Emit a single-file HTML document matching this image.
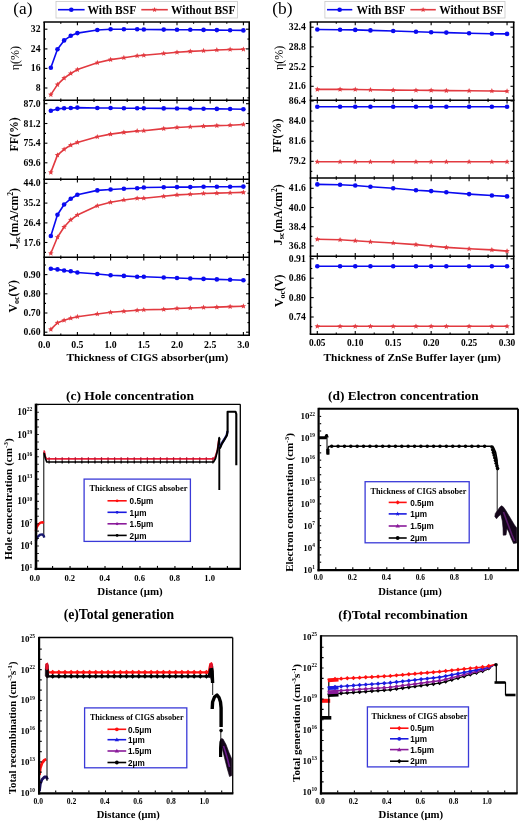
<!DOCTYPE html>
<html><head><meta charset="utf-8"><title>Figure</title>
<style>html,body{margin:0;padding:0;background:#fff;} svg{display:block;}</style>
</head><body>
<svg width="520" height="822" viewBox="0 0 520 822">
<rect x="0" y="0" width="520" height="822" fill="#fff"/>
<line x1="43.4" y1="22" x2="250" y2="22" stroke="#000" stroke-width="1.6"/>
<line x1="43.4" y1="100.3" x2="250" y2="100.3" stroke="#000" stroke-width="1.6"/>
<line x1="43.4" y1="179.3" x2="250" y2="179.3" stroke="#000" stroke-width="1.6"/>
<line x1="43.4" y1="257.3" x2="250" y2="257.3" stroke="#000" stroke-width="1.6"/>
<line x1="43.4" y1="335.3" x2="250" y2="335.3" stroke="#000" stroke-width="1.6"/>
<line x1="44.2" y1="22" x2="44.2" y2="335.3" stroke="#000" stroke-width="1.6"/>
<line x1="249.2" y1="22" x2="249.2" y2="335.3" stroke="#000" stroke-width="1.6"/>
<line x1="77.4" y1="22" x2="77.4" y2="25.2" stroke="#000" stroke-width="1.1"/>
<line x1="110.6" y1="22" x2="110.6" y2="25.2" stroke="#000" stroke-width="1.1"/>
<line x1="143.8" y1="22" x2="143.8" y2="25.2" stroke="#000" stroke-width="1.1"/>
<line x1="177" y1="22" x2="177" y2="25.2" stroke="#000" stroke-width="1.1"/>
<line x1="210.2" y1="22" x2="210.2" y2="25.2" stroke="#000" stroke-width="1.1"/>
<line x1="243.4" y1="22" x2="243.4" y2="25.2" stroke="#000" stroke-width="1.1"/>
<line x1="60.8" y1="22" x2="60.8" y2="23.8" stroke="#000" stroke-width="1.1"/>
<line x1="94" y1="22" x2="94" y2="23.8" stroke="#000" stroke-width="1.1"/>
<line x1="127.2" y1="22" x2="127.2" y2="23.8" stroke="#000" stroke-width="1.1"/>
<line x1="160.4" y1="22" x2="160.4" y2="23.8" stroke="#000" stroke-width="1.1"/>
<line x1="193.6" y1="22" x2="193.6" y2="23.8" stroke="#000" stroke-width="1.1"/>
<line x1="226.8" y1="22" x2="226.8" y2="23.8" stroke="#000" stroke-width="1.1"/>
<line x1="77.4" y1="100.3" x2="77.4" y2="97.1" stroke="#000" stroke-width="1.1"/>
<line x1="77.4" y1="100.3" x2="77.4" y2="103.5" stroke="#000" stroke-width="1.1"/>
<line x1="110.6" y1="100.3" x2="110.6" y2="97.1" stroke="#000" stroke-width="1.1"/>
<line x1="110.6" y1="100.3" x2="110.6" y2="103.5" stroke="#000" stroke-width="1.1"/>
<line x1="143.8" y1="100.3" x2="143.8" y2="97.1" stroke="#000" stroke-width="1.1"/>
<line x1="143.8" y1="100.3" x2="143.8" y2="103.5" stroke="#000" stroke-width="1.1"/>
<line x1="177" y1="100.3" x2="177" y2="97.1" stroke="#000" stroke-width="1.1"/>
<line x1="177" y1="100.3" x2="177" y2="103.5" stroke="#000" stroke-width="1.1"/>
<line x1="210.2" y1="100.3" x2="210.2" y2="97.1" stroke="#000" stroke-width="1.1"/>
<line x1="210.2" y1="100.3" x2="210.2" y2="103.5" stroke="#000" stroke-width="1.1"/>
<line x1="243.4" y1="100.3" x2="243.4" y2="97.1" stroke="#000" stroke-width="1.1"/>
<line x1="243.4" y1="100.3" x2="243.4" y2="103.5" stroke="#000" stroke-width="1.1"/>
<line x1="60.8" y1="100.3" x2="60.8" y2="98.5" stroke="#000" stroke-width="1.1"/>
<line x1="60.8" y1="100.3" x2="60.8" y2="102.1" stroke="#000" stroke-width="1.1"/>
<line x1="94" y1="100.3" x2="94" y2="98.5" stroke="#000" stroke-width="1.1"/>
<line x1="94" y1="100.3" x2="94" y2="102.1" stroke="#000" stroke-width="1.1"/>
<line x1="127.2" y1="100.3" x2="127.2" y2="98.5" stroke="#000" stroke-width="1.1"/>
<line x1="127.2" y1="100.3" x2="127.2" y2="102.1" stroke="#000" stroke-width="1.1"/>
<line x1="160.4" y1="100.3" x2="160.4" y2="98.5" stroke="#000" stroke-width="1.1"/>
<line x1="160.4" y1="100.3" x2="160.4" y2="102.1" stroke="#000" stroke-width="1.1"/>
<line x1="193.6" y1="100.3" x2="193.6" y2="98.5" stroke="#000" stroke-width="1.1"/>
<line x1="193.6" y1="100.3" x2="193.6" y2="102.1" stroke="#000" stroke-width="1.1"/>
<line x1="226.8" y1="100.3" x2="226.8" y2="98.5" stroke="#000" stroke-width="1.1"/>
<line x1="226.8" y1="100.3" x2="226.8" y2="102.1" stroke="#000" stroke-width="1.1"/>
<line x1="77.4" y1="179.3" x2="77.4" y2="176.1" stroke="#000" stroke-width="1.1"/>
<line x1="77.4" y1="179.3" x2="77.4" y2="182.5" stroke="#000" stroke-width="1.1"/>
<line x1="110.6" y1="179.3" x2="110.6" y2="176.1" stroke="#000" stroke-width="1.1"/>
<line x1="110.6" y1="179.3" x2="110.6" y2="182.5" stroke="#000" stroke-width="1.1"/>
<line x1="143.8" y1="179.3" x2="143.8" y2="176.1" stroke="#000" stroke-width="1.1"/>
<line x1="143.8" y1="179.3" x2="143.8" y2="182.5" stroke="#000" stroke-width="1.1"/>
<line x1="177" y1="179.3" x2="177" y2="176.1" stroke="#000" stroke-width="1.1"/>
<line x1="177" y1="179.3" x2="177" y2="182.5" stroke="#000" stroke-width="1.1"/>
<line x1="210.2" y1="179.3" x2="210.2" y2="176.1" stroke="#000" stroke-width="1.1"/>
<line x1="210.2" y1="179.3" x2="210.2" y2="182.5" stroke="#000" stroke-width="1.1"/>
<line x1="243.4" y1="179.3" x2="243.4" y2="176.1" stroke="#000" stroke-width="1.1"/>
<line x1="243.4" y1="179.3" x2="243.4" y2="182.5" stroke="#000" stroke-width="1.1"/>
<line x1="60.8" y1="179.3" x2="60.8" y2="177.5" stroke="#000" stroke-width="1.1"/>
<line x1="60.8" y1="179.3" x2="60.8" y2="181.1" stroke="#000" stroke-width="1.1"/>
<line x1="94" y1="179.3" x2="94" y2="177.5" stroke="#000" stroke-width="1.1"/>
<line x1="94" y1="179.3" x2="94" y2="181.1" stroke="#000" stroke-width="1.1"/>
<line x1="127.2" y1="179.3" x2="127.2" y2="177.5" stroke="#000" stroke-width="1.1"/>
<line x1="127.2" y1="179.3" x2="127.2" y2="181.1" stroke="#000" stroke-width="1.1"/>
<line x1="160.4" y1="179.3" x2="160.4" y2="177.5" stroke="#000" stroke-width="1.1"/>
<line x1="160.4" y1="179.3" x2="160.4" y2="181.1" stroke="#000" stroke-width="1.1"/>
<line x1="193.6" y1="179.3" x2="193.6" y2="177.5" stroke="#000" stroke-width="1.1"/>
<line x1="193.6" y1="179.3" x2="193.6" y2="181.1" stroke="#000" stroke-width="1.1"/>
<line x1="226.8" y1="179.3" x2="226.8" y2="177.5" stroke="#000" stroke-width="1.1"/>
<line x1="226.8" y1="179.3" x2="226.8" y2="181.1" stroke="#000" stroke-width="1.1"/>
<line x1="77.4" y1="257.3" x2="77.4" y2="254.1" stroke="#000" stroke-width="1.1"/>
<line x1="77.4" y1="257.3" x2="77.4" y2="260.5" stroke="#000" stroke-width="1.1"/>
<line x1="110.6" y1="257.3" x2="110.6" y2="254.1" stroke="#000" stroke-width="1.1"/>
<line x1="110.6" y1="257.3" x2="110.6" y2="260.5" stroke="#000" stroke-width="1.1"/>
<line x1="143.8" y1="257.3" x2="143.8" y2="254.1" stroke="#000" stroke-width="1.1"/>
<line x1="143.8" y1="257.3" x2="143.8" y2="260.5" stroke="#000" stroke-width="1.1"/>
<line x1="177" y1="257.3" x2="177" y2="254.1" stroke="#000" stroke-width="1.1"/>
<line x1="177" y1="257.3" x2="177" y2="260.5" stroke="#000" stroke-width="1.1"/>
<line x1="210.2" y1="257.3" x2="210.2" y2="254.1" stroke="#000" stroke-width="1.1"/>
<line x1="210.2" y1="257.3" x2="210.2" y2="260.5" stroke="#000" stroke-width="1.1"/>
<line x1="243.4" y1="257.3" x2="243.4" y2="254.1" stroke="#000" stroke-width="1.1"/>
<line x1="243.4" y1="257.3" x2="243.4" y2="260.5" stroke="#000" stroke-width="1.1"/>
<line x1="60.8" y1="257.3" x2="60.8" y2="255.5" stroke="#000" stroke-width="1.1"/>
<line x1="60.8" y1="257.3" x2="60.8" y2="259.1" stroke="#000" stroke-width="1.1"/>
<line x1="94" y1="257.3" x2="94" y2="255.5" stroke="#000" stroke-width="1.1"/>
<line x1="94" y1="257.3" x2="94" y2="259.1" stroke="#000" stroke-width="1.1"/>
<line x1="127.2" y1="257.3" x2="127.2" y2="255.5" stroke="#000" stroke-width="1.1"/>
<line x1="127.2" y1="257.3" x2="127.2" y2="259.1" stroke="#000" stroke-width="1.1"/>
<line x1="160.4" y1="257.3" x2="160.4" y2="255.5" stroke="#000" stroke-width="1.1"/>
<line x1="160.4" y1="257.3" x2="160.4" y2="259.1" stroke="#000" stroke-width="1.1"/>
<line x1="193.6" y1="257.3" x2="193.6" y2="255.5" stroke="#000" stroke-width="1.1"/>
<line x1="193.6" y1="257.3" x2="193.6" y2="259.1" stroke="#000" stroke-width="1.1"/>
<line x1="226.8" y1="257.3" x2="226.8" y2="255.5" stroke="#000" stroke-width="1.1"/>
<line x1="226.8" y1="257.3" x2="226.8" y2="259.1" stroke="#000" stroke-width="1.1"/>
<line x1="77.4" y1="335.3" x2="77.4" y2="332.1" stroke="#000" stroke-width="1.1"/>
<line x1="110.6" y1="335.3" x2="110.6" y2="332.1" stroke="#000" stroke-width="1.1"/>
<line x1="143.8" y1="335.3" x2="143.8" y2="332.1" stroke="#000" stroke-width="1.1"/>
<line x1="177" y1="335.3" x2="177" y2="332.1" stroke="#000" stroke-width="1.1"/>
<line x1="210.2" y1="335.3" x2="210.2" y2="332.1" stroke="#000" stroke-width="1.1"/>
<line x1="243.4" y1="335.3" x2="243.4" y2="332.1" stroke="#000" stroke-width="1.1"/>
<line x1="60.8" y1="335.3" x2="60.8" y2="333.5" stroke="#000" stroke-width="1.1"/>
<line x1="94" y1="335.3" x2="94" y2="333.5" stroke="#000" stroke-width="1.1"/>
<line x1="127.2" y1="335.3" x2="127.2" y2="333.5" stroke="#000" stroke-width="1.1"/>
<line x1="160.4" y1="335.3" x2="160.4" y2="333.5" stroke="#000" stroke-width="1.1"/>
<line x1="193.6" y1="335.3" x2="193.6" y2="333.5" stroke="#000" stroke-width="1.1"/>
<line x1="226.8" y1="335.3" x2="226.8" y2="333.5" stroke="#000" stroke-width="1.1"/>
<line x1="44.2" y1="29.2" x2="47.4" y2="29.2" stroke="#000" stroke-width="1.1"/>
<line x1="249.2" y1="29.2" x2="246" y2="29.2" stroke="#000" stroke-width="1.1"/>
<line x1="44.2" y1="48.9" x2="47.4" y2="48.9" stroke="#000" stroke-width="1.1"/>
<line x1="249.2" y1="48.9" x2="246" y2="48.9" stroke="#000" stroke-width="1.1"/>
<line x1="44.2" y1="68.4" x2="47.4" y2="68.4" stroke="#000" stroke-width="1.1"/>
<line x1="249.2" y1="68.4" x2="246" y2="68.4" stroke="#000" stroke-width="1.1"/>
<line x1="44.2" y1="88" x2="47.4" y2="88" stroke="#000" stroke-width="1.1"/>
<line x1="249.2" y1="88" x2="246" y2="88" stroke="#000" stroke-width="1.1"/>
<line x1="44.2" y1="39.05" x2="46" y2="39.05" stroke="#000" stroke-width="1.1"/>
<line x1="249.2" y1="39.05" x2="247.4" y2="39.05" stroke="#000" stroke-width="1.1"/>
<line x1="44.2" y1="58.65" x2="46" y2="58.65" stroke="#000" stroke-width="1.1"/>
<line x1="249.2" y1="58.65" x2="247.4" y2="58.65" stroke="#000" stroke-width="1.1"/>
<line x1="44.2" y1="78.2" x2="46" y2="78.2" stroke="#000" stroke-width="1.1"/>
<line x1="249.2" y1="78.2" x2="247.4" y2="78.2" stroke="#000" stroke-width="1.1"/>
<line x1="44.2" y1="97.85" x2="46" y2="97.85" stroke="#000" stroke-width="1.1"/>
<line x1="249.2" y1="97.85" x2="247.4" y2="97.85" stroke="#000" stroke-width="1.1"/>
<text x="40.5" y="32.2" font-family="'Liberation Serif', 'Times New Roman', serif" font-size="9.7" font-weight="bold" text-anchor="end" fill="#000">32</text>
<text x="40.5" y="51.9" font-family="'Liberation Serif', 'Times New Roman', serif" font-size="9.7" font-weight="bold" text-anchor="end" fill="#000">24</text>
<text x="40.5" y="71.4" font-family="'Liberation Serif', 'Times New Roman', serif" font-size="9.7" font-weight="bold" text-anchor="end" fill="#000">16</text>
<text x="40.5" y="91" font-family="'Liberation Serif', 'Times New Roman', serif" font-size="9.7" font-weight="bold" text-anchor="end" fill="#000">8</text>
<polyline points="50.84,94.6 57.48,84.6 64.12,78.1 70.76,73.5 77.4,69.6 97.32,62.7 110.6,59.6 123.88,57.7 137.16,55.8 143.8,55.3 163.72,53.5 177,52.3 190.28,51.4 203.56,50.7 216.84,50 230.12,49.5 243.4,49.3" fill="none" stroke="#e23a40" stroke-width="1.6" stroke-linejoin="round"/>
<polygon points="50.84,91.7 51.61,93.54 53.6,93.7 52.08,95 52.54,96.95 50.84,95.91 49.14,96.95 49.6,95 48.08,93.7 50.07,93.54" fill="#e23a40"/>
<polygon points="57.48,81.7 58.25,83.54 60.24,83.7 58.72,85 59.18,86.95 57.48,85.91 55.78,86.95 56.24,85 54.72,83.7 56.71,83.54" fill="#e23a40"/>
<polygon points="64.12,75.2 64.89,77.04 66.88,77.2 65.36,78.5 65.82,80.45 64.12,79.41 62.42,80.45 62.88,78.5 61.36,77.2 63.35,77.04" fill="#e23a40"/>
<polygon points="70.76,70.6 71.53,72.44 73.52,72.6 72,73.9 72.46,75.85 70.76,74.81 69.06,75.85 69.52,73.9 68,72.6 69.99,72.44" fill="#e23a40"/>
<polygon points="77.4,66.7 78.17,68.54 80.16,68.7 78.64,70 79.1,71.95 77.4,70.91 75.7,71.95 76.16,70 74.64,68.7 76.63,68.54" fill="#e23a40"/>
<polygon points="97.32,59.8 98.09,61.64 100.08,61.8 98.56,63.1 99.02,65.05 97.32,64.01 95.62,65.05 96.08,63.1 94.56,61.8 96.55,61.64" fill="#e23a40"/>
<polygon points="110.6,56.7 111.37,58.54 113.36,58.7 111.84,60 112.3,61.95 110.6,60.91 108.9,61.95 109.36,60 107.84,58.7 109.83,58.54" fill="#e23a40"/>
<polygon points="123.88,54.8 124.65,56.64 126.64,56.8 125.12,58.1 125.58,60.05 123.88,59.01 122.18,60.05 122.64,58.1 121.12,56.8 123.11,56.64" fill="#e23a40"/>
<polygon points="137.16,52.9 137.93,54.74 139.92,54.9 138.4,56.2 138.86,58.15 137.16,57.1 135.46,58.15 135.92,56.2 134.4,54.9 136.39,54.74" fill="#e23a40"/>
<polygon points="143.8,52.4 144.57,54.24 146.56,54.4 145.04,55.7 145.5,57.65 143.8,56.6 142.1,57.65 142.56,55.7 141.04,54.4 143.03,54.24" fill="#e23a40"/>
<polygon points="163.72,50.6 164.49,52.44 166.48,52.6 164.96,53.9 165.42,55.85 163.72,54.8 162.02,55.85 162.48,53.9 160.96,52.6 162.95,52.44" fill="#e23a40"/>
<polygon points="177,49.4 177.77,51.24 179.76,51.4 178.24,52.7 178.7,54.65 177,53.6 175.3,54.65 175.76,52.7 174.24,51.4 176.23,51.24" fill="#e23a40"/>
<polygon points="190.28,48.5 191.05,50.34 193.04,50.5 191.52,51.8 191.98,53.75 190.28,52.7 188.58,53.75 189.04,51.8 187.52,50.5 189.51,50.34" fill="#e23a40"/>
<polygon points="203.56,47.8 204.33,49.64 206.32,49.8 204.8,51.1 205.26,53.05 203.56,52.01 201.86,53.05 202.32,51.1 200.8,49.8 202.79,49.64" fill="#e23a40"/>
<polygon points="216.84,47.1 217.61,48.94 219.6,49.1 218.08,50.4 218.54,52.35 216.84,51.3 215.14,52.35 215.6,50.4 214.08,49.1 216.07,48.94" fill="#e23a40"/>
<polygon points="230.12,46.6 230.89,48.44 232.88,48.6 231.36,49.9 231.82,51.85 230.12,50.8 228.42,51.85 228.88,49.9 227.36,48.6 229.35,48.44" fill="#e23a40"/>
<polygon points="243.4,46.4 244.17,48.24 246.16,48.4 244.64,49.7 245.1,51.65 243.4,50.6 241.7,51.65 242.16,49.7 240.64,48.4 242.63,48.24" fill="#e23a40"/>
<polyline points="50.84,67.7 57.48,49.2 64.12,40.4 70.76,35.8 77.4,33.1 97.32,30 110.6,29.2 123.88,29.2 137.16,29.3 143.8,29.5 163.72,29.6 177,29.7 190.28,29.8 203.56,29.9 216.84,30.1 230.12,30.3 243.4,30.4" fill="none" stroke="#0a0af0" stroke-width="1.6" stroke-linejoin="round"/>
<circle cx="50.84" cy="67.7" r="2.3" fill="#0a0af0"/>
<circle cx="57.48" cy="49.2" r="2.3" fill="#0a0af0"/>
<circle cx="64.12" cy="40.4" r="2.3" fill="#0a0af0"/>
<circle cx="70.76" cy="35.8" r="2.3" fill="#0a0af0"/>
<circle cx="77.4" cy="33.1" r="2.3" fill="#0a0af0"/>
<circle cx="97.32" cy="30" r="2.3" fill="#0a0af0"/>
<circle cx="110.6" cy="29.2" r="2.3" fill="#0a0af0"/>
<circle cx="123.88" cy="29.2" r="2.3" fill="#0a0af0"/>
<circle cx="137.16" cy="29.3" r="2.3" fill="#0a0af0"/>
<circle cx="143.8" cy="29.5" r="2.3" fill="#0a0af0"/>
<circle cx="163.72" cy="29.6" r="2.3" fill="#0a0af0"/>
<circle cx="177" cy="29.7" r="2.3" fill="#0a0af0"/>
<circle cx="190.28" cy="29.8" r="2.3" fill="#0a0af0"/>
<circle cx="203.56" cy="29.9" r="2.3" fill="#0a0af0"/>
<circle cx="216.84" cy="30.1" r="2.3" fill="#0a0af0"/>
<circle cx="230.12" cy="30.3" r="2.3" fill="#0a0af0"/>
<circle cx="243.4" cy="30.4" r="2.3" fill="#0a0af0"/>
<line x1="44.2" y1="103.7" x2="47.4" y2="103.7" stroke="#000" stroke-width="1.1"/>
<line x1="249.2" y1="103.7" x2="246" y2="103.7" stroke="#000" stroke-width="1.1"/>
<line x1="44.2" y1="123.5" x2="47.4" y2="123.5" stroke="#000" stroke-width="1.1"/>
<line x1="249.2" y1="123.5" x2="246" y2="123.5" stroke="#000" stroke-width="1.1"/>
<line x1="44.2" y1="143.2" x2="47.4" y2="143.2" stroke="#000" stroke-width="1.1"/>
<line x1="249.2" y1="143.2" x2="246" y2="143.2" stroke="#000" stroke-width="1.1"/>
<line x1="44.2" y1="162.8" x2="47.4" y2="162.8" stroke="#000" stroke-width="1.1"/>
<line x1="249.2" y1="162.8" x2="246" y2="162.8" stroke="#000" stroke-width="1.1"/>
<line x1="44.2" y1="113.6" x2="46" y2="113.6" stroke="#000" stroke-width="1.1"/>
<line x1="249.2" y1="113.6" x2="247.4" y2="113.6" stroke="#000" stroke-width="1.1"/>
<line x1="44.2" y1="133.35" x2="46" y2="133.35" stroke="#000" stroke-width="1.1"/>
<line x1="249.2" y1="133.35" x2="247.4" y2="133.35" stroke="#000" stroke-width="1.1"/>
<line x1="44.2" y1="153" x2="46" y2="153" stroke="#000" stroke-width="1.1"/>
<line x1="249.2" y1="153" x2="247.4" y2="153" stroke="#000" stroke-width="1.1"/>
<line x1="44.2" y1="172.7" x2="46" y2="172.7" stroke="#000" stroke-width="1.1"/>
<line x1="249.2" y1="172.7" x2="247.4" y2="172.7" stroke="#000" stroke-width="1.1"/>
<text x="40.5" y="106.7" font-family="'Liberation Serif', 'Times New Roman', serif" font-size="9.7" font-weight="bold" text-anchor="end" fill="#000">87.0</text>
<text x="40.5" y="126.5" font-family="'Liberation Serif', 'Times New Roman', serif" font-size="9.7" font-weight="bold" text-anchor="end" fill="#000">81.2</text>
<text x="40.5" y="146.2" font-family="'Liberation Serif', 'Times New Roman', serif" font-size="9.7" font-weight="bold" text-anchor="end" fill="#000">75.4</text>
<text x="40.5" y="165.8" font-family="'Liberation Serif', 'Times New Roman', serif" font-size="9.7" font-weight="bold" text-anchor="end" fill="#000">69.6</text>
<polyline points="50.84,172.4 57.48,155.1 64.12,149.3 70.76,145.1 77.4,142.4 97.32,136.8 110.6,134.1 123.88,132.4 137.16,131 143.8,130.7 163.72,128.6 177,127.5 190.28,126.8 203.56,126.1 216.84,125.6 230.12,125.2 243.4,124.5" fill="none" stroke="#e23a40" stroke-width="1.6" stroke-linejoin="round"/>
<polygon points="50.84,169.5 51.61,171.34 53.6,171.5 52.08,172.8 52.54,174.75 50.84,173.71 49.14,174.75 49.6,172.8 48.08,171.5 50.07,171.34" fill="#e23a40"/>
<polygon points="57.48,152.2 58.25,154.04 60.24,154.2 58.72,155.5 59.18,157.45 57.48,156.41 55.78,157.45 56.24,155.5 54.72,154.2 56.71,154.04" fill="#e23a40"/>
<polygon points="64.12,146.4 64.89,148.24 66.88,148.4 65.36,149.7 65.82,151.65 64.12,150.61 62.42,151.65 62.88,149.7 61.36,148.4 63.35,148.24" fill="#e23a40"/>
<polygon points="70.76,142.2 71.53,144.04 73.52,144.2 72,145.5 72.46,147.45 70.76,146.41 69.06,147.45 69.52,145.5 68,144.2 69.99,144.04" fill="#e23a40"/>
<polygon points="77.4,139.5 78.17,141.34 80.16,141.5 78.64,142.8 79.1,144.75 77.4,143.71 75.7,144.75 76.16,142.8 74.64,141.5 76.63,141.34" fill="#e23a40"/>
<polygon points="97.32,133.9 98.09,135.74 100.08,135.9 98.56,137.2 99.02,139.15 97.32,138.11 95.62,139.15 96.08,137.2 94.56,135.9 96.55,135.74" fill="#e23a40"/>
<polygon points="110.6,131.2 111.37,133.04 113.36,133.2 111.84,134.5 112.3,136.45 110.6,135.41 108.9,136.45 109.36,134.5 107.84,133.2 109.83,133.04" fill="#e23a40"/>
<polygon points="123.88,129.5 124.65,131.34 126.64,131.5 125.12,132.8 125.58,134.75 123.88,133.71 122.18,134.75 122.64,132.8 121.12,131.5 123.11,131.34" fill="#e23a40"/>
<polygon points="137.16,128.1 137.93,129.94 139.92,130.1 138.4,131.4 138.86,133.35 137.16,132.31 135.46,133.35 135.92,131.4 134.4,130.1 136.39,129.94" fill="#e23a40"/>
<polygon points="143.8,127.8 144.57,129.64 146.56,129.8 145.04,131.1 145.5,133.05 143.8,132 142.1,133.05 142.56,131.1 141.04,129.8 143.03,129.64" fill="#e23a40"/>
<polygon points="163.72,125.7 164.49,127.54 166.48,127.7 164.96,129 165.42,130.95 163.72,129.91 162.02,130.95 162.48,129 160.96,127.7 162.95,127.54" fill="#e23a40"/>
<polygon points="177,124.6 177.77,126.44 179.76,126.6 178.24,127.9 178.7,129.85 177,128.81 175.3,129.85 175.76,127.9 174.24,126.6 176.23,126.44" fill="#e23a40"/>
<polygon points="190.28,123.9 191.05,125.74 193.04,125.9 191.52,127.2 191.98,129.15 190.28,128.1 188.58,129.15 189.04,127.2 187.52,125.9 189.51,125.74" fill="#e23a40"/>
<polygon points="203.56,123.2 204.33,125.04 206.32,125.2 204.8,126.5 205.26,128.45 203.56,127.41 201.86,128.45 202.32,126.5 200.8,125.2 202.79,125.04" fill="#e23a40"/>
<polygon points="216.84,122.7 217.61,124.54 219.6,124.7 218.08,126 218.54,127.95 216.84,126.91 215.14,127.95 215.6,126 214.08,124.7 216.07,124.54" fill="#e23a40"/>
<polygon points="230.12,122.3 230.89,124.14 232.88,124.3 231.36,125.6 231.82,127.55 230.12,126.51 228.42,127.55 228.88,125.6 227.36,124.3 229.35,124.14" fill="#e23a40"/>
<polygon points="243.4,121.6 244.17,123.44 246.16,123.6 244.64,124.9 245.1,126.85 243.4,125.81 241.7,126.85 242.16,124.9 240.64,123.6 242.63,123.44" fill="#e23a40"/>
<polyline points="50.84,110.8 57.48,108.9 64.12,108.2 70.76,108 77.4,107.6 97.32,108 110.6,108 123.88,108.2 137.16,108.2 143.8,108.2 163.72,108.4 177,108.5 190.28,108.6 203.56,108.7 216.84,108.9 230.12,109 243.4,109.2" fill="none" stroke="#0a0af0" stroke-width="1.6" stroke-linejoin="round"/>
<circle cx="50.84" cy="110.8" r="2.3" fill="#0a0af0"/>
<circle cx="57.48" cy="108.9" r="2.3" fill="#0a0af0"/>
<circle cx="64.12" cy="108.2" r="2.3" fill="#0a0af0"/>
<circle cx="70.76" cy="108" r="2.3" fill="#0a0af0"/>
<circle cx="77.4" cy="107.6" r="2.3" fill="#0a0af0"/>
<circle cx="97.32" cy="108" r="2.3" fill="#0a0af0"/>
<circle cx="110.6" cy="108" r="2.3" fill="#0a0af0"/>
<circle cx="123.88" cy="108.2" r="2.3" fill="#0a0af0"/>
<circle cx="137.16" cy="108.2" r="2.3" fill="#0a0af0"/>
<circle cx="143.8" cy="108.2" r="2.3" fill="#0a0af0"/>
<circle cx="163.72" cy="108.4" r="2.3" fill="#0a0af0"/>
<circle cx="177" cy="108.5" r="2.3" fill="#0a0af0"/>
<circle cx="190.28" cy="108.6" r="2.3" fill="#0a0af0"/>
<circle cx="203.56" cy="108.7" r="2.3" fill="#0a0af0"/>
<circle cx="216.84" cy="108.9" r="2.3" fill="#0a0af0"/>
<circle cx="230.12" cy="109" r="2.3" fill="#0a0af0"/>
<circle cx="243.4" cy="109.2" r="2.3" fill="#0a0af0"/>
<line x1="44.2" y1="183.3" x2="47.4" y2="183.3" stroke="#000" stroke-width="1.1"/>
<line x1="249.2" y1="183.3" x2="246" y2="183.3" stroke="#000" stroke-width="1.1"/>
<line x1="44.2" y1="203.1" x2="47.4" y2="203.1" stroke="#000" stroke-width="1.1"/>
<line x1="249.2" y1="203.1" x2="246" y2="203.1" stroke="#000" stroke-width="1.1"/>
<line x1="44.2" y1="222.9" x2="47.4" y2="222.9" stroke="#000" stroke-width="1.1"/>
<line x1="249.2" y1="222.9" x2="246" y2="222.9" stroke="#000" stroke-width="1.1"/>
<line x1="44.2" y1="242.5" x2="47.4" y2="242.5" stroke="#000" stroke-width="1.1"/>
<line x1="249.2" y1="242.5" x2="246" y2="242.5" stroke="#000" stroke-width="1.1"/>
<line x1="44.2" y1="193.2" x2="46" y2="193.2" stroke="#000" stroke-width="1.1"/>
<line x1="249.2" y1="193.2" x2="247.4" y2="193.2" stroke="#000" stroke-width="1.1"/>
<line x1="44.2" y1="213" x2="46" y2="213" stroke="#000" stroke-width="1.1"/>
<line x1="249.2" y1="213" x2="247.4" y2="213" stroke="#000" stroke-width="1.1"/>
<line x1="44.2" y1="232.7" x2="46" y2="232.7" stroke="#000" stroke-width="1.1"/>
<line x1="249.2" y1="232.7" x2="247.4" y2="232.7" stroke="#000" stroke-width="1.1"/>
<line x1="44.2" y1="252.4" x2="46" y2="252.4" stroke="#000" stroke-width="1.1"/>
<line x1="249.2" y1="252.4" x2="247.4" y2="252.4" stroke="#000" stroke-width="1.1"/>
<text x="40.5" y="186.3" font-family="'Liberation Serif', 'Times New Roman', serif" font-size="9.7" font-weight="bold" text-anchor="end" fill="#000">44.0</text>
<text x="40.5" y="206.1" font-family="'Liberation Serif', 'Times New Roman', serif" font-size="9.7" font-weight="bold" text-anchor="end" fill="#000">35.2</text>
<text x="40.5" y="225.9" font-family="'Liberation Serif', 'Times New Roman', serif" font-size="9.7" font-weight="bold" text-anchor="end" fill="#000">26.4</text>
<text x="40.5" y="245.5" font-family="'Liberation Serif', 'Times New Roman', serif" font-size="9.7" font-weight="bold" text-anchor="end" fill="#000">17.6</text>
<polyline points="50.84,253.3 57.48,237.2 64.12,227 70.76,219.8 77.4,215 97.32,205.8 110.6,202.3 123.88,200 137.16,198.3 143.8,198.2 163.72,196.3 177,194.9 190.28,194.2 203.56,193.5 216.84,193.1 230.12,192.8 243.4,192.4" fill="none" stroke="#e23a40" stroke-width="1.6" stroke-linejoin="round"/>
<polygon points="50.84,250.4 51.61,252.24 53.6,252.4 52.08,253.7 52.54,255.65 50.84,254.61 49.14,255.65 49.6,253.7 48.08,252.4 50.07,252.24" fill="#e23a40"/>
<polygon points="57.48,234.3 58.25,236.14 60.24,236.3 58.72,237.6 59.18,239.55 57.48,238.5 55.78,239.55 56.24,237.6 54.72,236.3 56.71,236.14" fill="#e23a40"/>
<polygon points="64.12,224.1 64.89,225.94 66.88,226.1 65.36,227.4 65.82,229.35 64.12,228.31 62.42,229.35 62.88,227.4 61.36,226.1 63.35,225.94" fill="#e23a40"/>
<polygon points="70.76,216.9 71.53,218.74 73.52,218.9 72,220.2 72.46,222.15 70.76,221.11 69.06,222.15 69.52,220.2 68,218.9 69.99,218.74" fill="#e23a40"/>
<polygon points="77.4,212.1 78.17,213.94 80.16,214.1 78.64,215.4 79.1,217.35 77.4,216.31 75.7,217.35 76.16,215.4 74.64,214.1 76.63,213.94" fill="#e23a40"/>
<polygon points="97.32,202.9 98.09,204.74 100.08,204.9 98.56,206.2 99.02,208.15 97.32,207.11 95.62,208.15 96.08,206.2 94.56,204.9 96.55,204.74" fill="#e23a40"/>
<polygon points="110.6,199.4 111.37,201.24 113.36,201.4 111.84,202.7 112.3,204.65 110.6,203.61 108.9,204.65 109.36,202.7 107.84,201.4 109.83,201.24" fill="#e23a40"/>
<polygon points="123.88,197.1 124.65,198.94 126.64,199.1 125.12,200.4 125.58,202.35 123.88,201.31 122.18,202.35 122.64,200.4 121.12,199.1 123.11,198.94" fill="#e23a40"/>
<polygon points="137.16,195.4 137.93,197.24 139.92,197.4 138.4,198.7 138.86,200.65 137.16,199.61 135.46,200.65 135.92,198.7 134.4,197.4 136.39,197.24" fill="#e23a40"/>
<polygon points="143.8,195.3 144.57,197.14 146.56,197.3 145.04,198.6 145.5,200.55 143.8,199.5 142.1,200.55 142.56,198.6 141.04,197.3 143.03,197.14" fill="#e23a40"/>
<polygon points="163.72,193.4 164.49,195.24 166.48,195.4 164.96,196.7 165.42,198.65 163.72,197.61 162.02,198.65 162.48,196.7 160.96,195.4 162.95,195.24" fill="#e23a40"/>
<polygon points="177,192 177.77,193.84 179.76,194 178.24,195.3 178.7,197.25 177,196.21 175.3,197.25 175.76,195.3 174.24,194 176.23,193.84" fill="#e23a40"/>
<polygon points="190.28,191.3 191.05,193.14 193.04,193.3 191.52,194.6 191.98,196.55 190.28,195.5 188.58,196.55 189.04,194.6 187.52,193.3 189.51,193.14" fill="#e23a40"/>
<polygon points="203.56,190.6 204.33,192.44 206.32,192.6 204.8,193.9 205.26,195.85 203.56,194.81 201.86,195.85 202.32,193.9 200.8,192.6 202.79,192.44" fill="#e23a40"/>
<polygon points="216.84,190.2 217.61,192.04 219.6,192.2 218.08,193.5 218.54,195.45 216.84,194.41 215.14,195.45 215.6,193.5 214.08,192.2 216.07,192.04" fill="#e23a40"/>
<polygon points="230.12,189.9 230.89,191.74 232.88,191.9 231.36,193.2 231.82,195.15 230.12,194.11 228.42,195.15 228.88,193.2 227.36,191.9 229.35,191.74" fill="#e23a40"/>
<polygon points="243.4,189.5 244.17,191.34 246.16,191.5 244.64,192.8 245.1,194.75 243.4,193.71 241.7,194.75 242.16,192.8 240.64,191.5 242.63,191.34" fill="#e23a40"/>
<polyline points="50.84,236 57.48,214.8 64.12,204.5 70.76,198.7 77.4,194.8 97.32,190.4 110.6,189.5 123.88,188.7 137.16,188.3 143.8,187.5 163.72,187.3 177,187.1 190.28,187.1 203.56,186.8 216.84,186.8 230.12,186.8 243.4,186.6" fill="none" stroke="#0a0af0" stroke-width="1.6" stroke-linejoin="round"/>
<circle cx="50.84" cy="236" r="2.3" fill="#0a0af0"/>
<circle cx="57.48" cy="214.8" r="2.3" fill="#0a0af0"/>
<circle cx="64.12" cy="204.5" r="2.3" fill="#0a0af0"/>
<circle cx="70.76" cy="198.7" r="2.3" fill="#0a0af0"/>
<circle cx="77.4" cy="194.8" r="2.3" fill="#0a0af0"/>
<circle cx="97.32" cy="190.4" r="2.3" fill="#0a0af0"/>
<circle cx="110.6" cy="189.5" r="2.3" fill="#0a0af0"/>
<circle cx="123.88" cy="188.7" r="2.3" fill="#0a0af0"/>
<circle cx="137.16" cy="188.3" r="2.3" fill="#0a0af0"/>
<circle cx="143.8" cy="187.5" r="2.3" fill="#0a0af0"/>
<circle cx="163.72" cy="187.3" r="2.3" fill="#0a0af0"/>
<circle cx="177" cy="187.1" r="2.3" fill="#0a0af0"/>
<circle cx="190.28" cy="187.1" r="2.3" fill="#0a0af0"/>
<circle cx="203.56" cy="186.8" r="2.3" fill="#0a0af0"/>
<circle cx="216.84" cy="186.8" r="2.3" fill="#0a0af0"/>
<circle cx="230.12" cy="186.8" r="2.3" fill="#0a0af0"/>
<circle cx="243.4" cy="186.6" r="2.3" fill="#0a0af0"/>
<line x1="44.2" y1="274.6" x2="47.4" y2="274.6" stroke="#000" stroke-width="1.1"/>
<line x1="249.2" y1="274.6" x2="246" y2="274.6" stroke="#000" stroke-width="1.1"/>
<line x1="44.2" y1="293.8" x2="47.4" y2="293.8" stroke="#000" stroke-width="1.1"/>
<line x1="249.2" y1="293.8" x2="246" y2="293.8" stroke="#000" stroke-width="1.1"/>
<line x1="44.2" y1="313" x2="47.4" y2="313" stroke="#000" stroke-width="1.1"/>
<line x1="249.2" y1="313" x2="246" y2="313" stroke="#000" stroke-width="1.1"/>
<line x1="44.2" y1="332.2" x2="47.4" y2="332.2" stroke="#000" stroke-width="1.1"/>
<line x1="249.2" y1="332.2" x2="246" y2="332.2" stroke="#000" stroke-width="1.1"/>
<line x1="44.2" y1="265" x2="46" y2="265" stroke="#000" stroke-width="1.1"/>
<line x1="249.2" y1="265" x2="247.4" y2="265" stroke="#000" stroke-width="1.1"/>
<line x1="44.2" y1="284.2" x2="46" y2="284.2" stroke="#000" stroke-width="1.1"/>
<line x1="249.2" y1="284.2" x2="247.4" y2="284.2" stroke="#000" stroke-width="1.1"/>
<line x1="44.2" y1="303.4" x2="46" y2="303.4" stroke="#000" stroke-width="1.1"/>
<line x1="249.2" y1="303.4" x2="247.4" y2="303.4" stroke="#000" stroke-width="1.1"/>
<line x1="44.2" y1="322.6" x2="46" y2="322.6" stroke="#000" stroke-width="1.1"/>
<line x1="249.2" y1="322.6" x2="247.4" y2="322.6" stroke="#000" stroke-width="1.1"/>
<text x="40.5" y="277.6" font-family="'Liberation Serif', 'Times New Roman', serif" font-size="9.7" font-weight="bold" text-anchor="end" fill="#000">0.90</text>
<text x="40.5" y="296.8" font-family="'Liberation Serif', 'Times New Roman', serif" font-size="9.7" font-weight="bold" text-anchor="end" fill="#000">0.80</text>
<text x="40.5" y="316" font-family="'Liberation Serif', 'Times New Roman', serif" font-size="9.7" font-weight="bold" text-anchor="end" fill="#000">0.70</text>
<text x="40.5" y="335.2" font-family="'Liberation Serif', 'Times New Roman', serif" font-size="9.7" font-weight="bold" text-anchor="end" fill="#000">0.60</text>
<polyline points="50.84,329.4 57.48,322.8 64.12,320.3 70.76,318.2 77.4,316.7 97.32,314 110.6,312.3 123.88,311.3 137.16,310.3 143.8,309.8 163.72,309.4 177,308.5 190.28,308 203.56,307.5 216.84,307.1 230.12,306.6 243.4,306.2" fill="none" stroke="#e23a40" stroke-width="1.6" stroke-linejoin="round"/>
<polygon points="50.84,326.5 51.61,328.34 53.6,328.5 52.08,329.8 52.54,331.75 50.84,330.7 49.14,331.75 49.6,329.8 48.08,328.5 50.07,328.34" fill="#e23a40"/>
<polygon points="57.48,319.9 58.25,321.74 60.24,321.9 58.72,323.2 59.18,325.15 57.48,324.11 55.78,325.15 56.24,323.2 54.72,321.9 56.71,321.74" fill="#e23a40"/>
<polygon points="64.12,317.4 64.89,319.24 66.88,319.4 65.36,320.7 65.82,322.65 64.12,321.61 62.42,322.65 62.88,320.7 61.36,319.4 63.35,319.24" fill="#e23a40"/>
<polygon points="70.76,315.3 71.53,317.14 73.52,317.3 72,318.6 72.46,320.55 70.76,319.5 69.06,320.55 69.52,318.6 68,317.3 69.99,317.14" fill="#e23a40"/>
<polygon points="77.4,313.8 78.17,315.64 80.16,315.8 78.64,317.1 79.1,319.05 77.4,318 75.7,319.05 76.16,317.1 74.64,315.8 76.63,315.64" fill="#e23a40"/>
<polygon points="97.32,311.1 98.09,312.94 100.08,313.1 98.56,314.4 99.02,316.35 97.32,315.31 95.62,316.35 96.08,314.4 94.56,313.1 96.55,312.94" fill="#e23a40"/>
<polygon points="110.6,309.4 111.37,311.24 113.36,311.4 111.84,312.7 112.3,314.65 110.6,313.61 108.9,314.65 109.36,312.7 107.84,311.4 109.83,311.24" fill="#e23a40"/>
<polygon points="123.88,308.4 124.65,310.24 126.64,310.4 125.12,311.7 125.58,313.65 123.88,312.61 122.18,313.65 122.64,311.7 121.12,310.4 123.11,310.24" fill="#e23a40"/>
<polygon points="137.16,307.4 137.93,309.24 139.92,309.4 138.4,310.7 138.86,312.65 137.16,311.61 135.46,312.65 135.92,310.7 134.4,309.4 136.39,309.24" fill="#e23a40"/>
<polygon points="143.8,306.9 144.57,308.74 146.56,308.9 145.04,310.2 145.5,312.15 143.8,311.11 142.1,312.15 142.56,310.2 141.04,308.9 143.03,308.74" fill="#e23a40"/>
<polygon points="163.72,306.5 164.49,308.34 166.48,308.5 164.96,309.8 165.42,311.75 163.72,310.7 162.02,311.75 162.48,309.8 160.96,308.5 162.95,308.34" fill="#e23a40"/>
<polygon points="177,305.6 177.77,307.44 179.76,307.6 178.24,308.9 178.7,310.85 177,309.81 175.3,310.85 175.76,308.9 174.24,307.6 176.23,307.44" fill="#e23a40"/>
<polygon points="190.28,305.1 191.05,306.94 193.04,307.1 191.52,308.4 191.98,310.35 190.28,309.31 188.58,310.35 189.04,308.4 187.52,307.1 189.51,306.94" fill="#e23a40"/>
<polygon points="203.56,304.6 204.33,306.44 206.32,306.6 204.8,307.9 205.26,309.85 203.56,308.81 201.86,309.85 202.32,307.9 200.8,306.6 202.79,306.44" fill="#e23a40"/>
<polygon points="216.84,304.2 217.61,306.04 219.6,306.2 218.08,307.5 218.54,309.45 216.84,308.41 215.14,309.45 215.6,307.5 214.08,306.2 216.07,306.04" fill="#e23a40"/>
<polygon points="230.12,303.7 230.89,305.54 232.88,305.7 231.36,307 231.82,308.95 230.12,307.91 228.42,308.95 228.88,307 227.36,305.7 229.35,305.54" fill="#e23a40"/>
<polygon points="243.4,303.3 244.17,305.14 246.16,305.3 244.64,306.6 245.1,308.55 243.4,307.5 241.7,308.55 242.16,306.6 240.64,305.3 242.63,305.14" fill="#e23a40"/>
<polyline points="50.84,268.8 57.48,269.4 64.12,270.5 70.76,271.3 77.4,272.5 97.32,274 110.6,275.2 123.88,275.9 137.16,276.7 143.8,276.8 163.72,277.5 177,278 190.28,278.5 203.56,278.9 216.84,279.4 230.12,279.8 243.4,280.3" fill="none" stroke="#0a0af0" stroke-width="1.6" stroke-linejoin="round"/>
<circle cx="50.84" cy="268.8" r="2.3" fill="#0a0af0"/>
<circle cx="57.48" cy="269.4" r="2.3" fill="#0a0af0"/>
<circle cx="64.12" cy="270.5" r="2.3" fill="#0a0af0"/>
<circle cx="70.76" cy="271.3" r="2.3" fill="#0a0af0"/>
<circle cx="77.4" cy="272.5" r="2.3" fill="#0a0af0"/>
<circle cx="97.32" cy="274" r="2.3" fill="#0a0af0"/>
<circle cx="110.6" cy="275.2" r="2.3" fill="#0a0af0"/>
<circle cx="123.88" cy="275.9" r="2.3" fill="#0a0af0"/>
<circle cx="137.16" cy="276.7" r="2.3" fill="#0a0af0"/>
<circle cx="143.8" cy="276.8" r="2.3" fill="#0a0af0"/>
<circle cx="163.72" cy="277.5" r="2.3" fill="#0a0af0"/>
<circle cx="177" cy="278" r="2.3" fill="#0a0af0"/>
<circle cx="190.28" cy="278.5" r="2.3" fill="#0a0af0"/>
<circle cx="203.56" cy="278.9" r="2.3" fill="#0a0af0"/>
<circle cx="216.84" cy="279.4" r="2.3" fill="#0a0af0"/>
<circle cx="230.12" cy="279.8" r="2.3" fill="#0a0af0"/>
<circle cx="243.4" cy="280.3" r="2.3" fill="#0a0af0"/>
<text x="44.2" y="348.3" font-family="'Liberation Serif', 'Times New Roman', serif" font-size="9.8" font-weight="bold" text-anchor="middle" fill="#000">0.0</text>
<text x="77.4" y="348.3" font-family="'Liberation Serif', 'Times New Roman', serif" font-size="9.8" font-weight="bold" text-anchor="middle" fill="#000">0.5</text>
<text x="110.6" y="348.3" font-family="'Liberation Serif', 'Times New Roman', serif" font-size="9.8" font-weight="bold" text-anchor="middle" fill="#000">1.0</text>
<text x="143.8" y="348.3" font-family="'Liberation Serif', 'Times New Roman', serif" font-size="9.8" font-weight="bold" text-anchor="middle" fill="#000">1.5</text>
<text x="177" y="348.3" font-family="'Liberation Serif', 'Times New Roman', serif" font-size="9.8" font-weight="bold" text-anchor="middle" fill="#000">2.0</text>
<text x="210.2" y="348.3" font-family="'Liberation Serif', 'Times New Roman', serif" font-size="9.8" font-weight="bold" text-anchor="middle" fill="#000">2.5</text>
<text x="243.4" y="348.3" font-family="'Liberation Serif', 'Times New Roman', serif" font-size="9.8" font-weight="bold" text-anchor="middle" fill="#000">3.0</text>
<text x="147.3" y="361.2" font-family="'Liberation Serif', 'Times New Roman', serif" font-size="11.4" font-weight="bold" text-anchor="middle" fill="#000">Thickness of CIGS absorber(μm)</text>
<text x="19.3" y="58.2" font-family="'Liberation Serif', 'Times New Roman', serif" font-size="12" font-weight="normal" text-anchor="middle" transform="rotate(-90 19.3 58.2)">η(%)</text>
<text x="18.3" y="134.4" font-family="'Liberation Serif', 'Times New Roman', serif" font-size="11.8" font-weight="bold" text-anchor="middle" transform="rotate(-90 18.3 134.4)">FF(%)</text>
<text x="17.8" y="218.5" font-family="'Liberation Serif', 'Times New Roman', serif" font-size="11.8" font-weight="bold" text-anchor="middle" transform="rotate(-90 17.8 218.5)">J<tspan font-size="8" dy="2.5">sc</tspan><tspan dy="-2.5">(mA/cm</tspan><tspan font-size="7.5" dy="-4.5">2</tspan><tspan dy="4.5">)</tspan></text>
<text x="16.9" y="296.3" font-family="'Liberation Serif', 'Times New Roman', serif" font-size="11.8" font-weight="bold" text-anchor="middle" transform="rotate(-90 16.9 296.3)">V<tspan font-size="8" dy="2.5">oc</tspan><tspan dy="-2.5">(V)</tspan></text>
<rect x="56" y="1.4" width="181.5" height="16.6" fill="#fff" stroke="#c8c8c8" stroke-width="0.8"/>
<line x1="58" y1="9.7" x2="84.6" y2="9.7" stroke="#0a0af0" stroke-width="1.6"/>
<circle cx="71.3" cy="9.7" r="2.3" fill="#0a0af0"/>
<text x="87.4" y="13.6" font-family="'Liberation Serif', 'Times New Roman', serif" font-size="11.55" font-weight="bold" text-anchor="start" fill="#000">With BSF</text>
<line x1="141.3" y1="9.7" x2="167.8" y2="9.7" stroke="#e23a40" stroke-width="1.6"/>
<polygon points="154.55,6.9 155.29,8.68 157.21,8.83 155.75,10.09 156.2,11.97 154.55,10.96 152.9,11.97 153.35,10.09 151.89,8.83 153.81,8.68" fill="#e23a40"/>
<text x="171.1" y="13.6" font-family="'Liberation Serif', 'Times New Roman', serif" font-size="11.45" font-weight="bold" text-anchor="start" fill="#000">Without BSF</text>
<text x="13.3" y="14.4" font-family="'Liberation Serif', 'Times New Roman', serif" font-size="17.2" font-weight="normal" text-anchor="start" fill="#000">(a)</text>
<line x1="309.7" y1="22" x2="514.5" y2="22" stroke="#000" stroke-width="1.6"/>
<line x1="309.7" y1="100.2" x2="514.5" y2="100.2" stroke="#000" stroke-width="1.6"/>
<line x1="309.7" y1="178" x2="514.5" y2="178" stroke="#000" stroke-width="1.6"/>
<line x1="309.7" y1="256.3" x2="514.5" y2="256.3" stroke="#000" stroke-width="1.6"/>
<line x1="309.7" y1="334.2" x2="514.5" y2="334.2" stroke="#000" stroke-width="1.6"/>
<line x1="310.5" y1="22" x2="310.5" y2="334.2" stroke="#000" stroke-width="1.6"/>
<line x1="513.7" y1="22" x2="513.7" y2="334.2" stroke="#000" stroke-width="1.6"/>
<line x1="317.3" y1="22" x2="317.3" y2="25.2" stroke="#000" stroke-width="1.1"/>
<line x1="355.25" y1="22" x2="355.25" y2="25.2" stroke="#000" stroke-width="1.1"/>
<line x1="393.2" y1="22" x2="393.2" y2="25.2" stroke="#000" stroke-width="1.1"/>
<line x1="431.15" y1="22" x2="431.15" y2="25.2" stroke="#000" stroke-width="1.1"/>
<line x1="469.1" y1="22" x2="469.1" y2="25.2" stroke="#000" stroke-width="1.1"/>
<line x1="507.05" y1="22" x2="507.05" y2="25.2" stroke="#000" stroke-width="1.1"/>
<line x1="336.28" y1="22" x2="336.28" y2="23.8" stroke="#000" stroke-width="1.1"/>
<line x1="374.23" y1="22" x2="374.23" y2="23.8" stroke="#000" stroke-width="1.1"/>
<line x1="412.18" y1="22" x2="412.18" y2="23.8" stroke="#000" stroke-width="1.1"/>
<line x1="450.12" y1="22" x2="450.12" y2="23.8" stroke="#000" stroke-width="1.1"/>
<line x1="488.08" y1="22" x2="488.08" y2="23.8" stroke="#000" stroke-width="1.1"/>
<line x1="317.3" y1="100.2" x2="317.3" y2="97" stroke="#000" stroke-width="1.1"/>
<line x1="317.3" y1="100.2" x2="317.3" y2="103.4" stroke="#000" stroke-width="1.1"/>
<line x1="355.25" y1="100.2" x2="355.25" y2="97" stroke="#000" stroke-width="1.1"/>
<line x1="355.25" y1="100.2" x2="355.25" y2="103.4" stroke="#000" stroke-width="1.1"/>
<line x1="393.2" y1="100.2" x2="393.2" y2="97" stroke="#000" stroke-width="1.1"/>
<line x1="393.2" y1="100.2" x2="393.2" y2="103.4" stroke="#000" stroke-width="1.1"/>
<line x1="431.15" y1="100.2" x2="431.15" y2="97" stroke="#000" stroke-width="1.1"/>
<line x1="431.15" y1="100.2" x2="431.15" y2="103.4" stroke="#000" stroke-width="1.1"/>
<line x1="469.1" y1="100.2" x2="469.1" y2="97" stroke="#000" stroke-width="1.1"/>
<line x1="469.1" y1="100.2" x2="469.1" y2="103.4" stroke="#000" stroke-width="1.1"/>
<line x1="507.05" y1="100.2" x2="507.05" y2="97" stroke="#000" stroke-width="1.1"/>
<line x1="507.05" y1="100.2" x2="507.05" y2="103.4" stroke="#000" stroke-width="1.1"/>
<line x1="336.28" y1="100.2" x2="336.28" y2="98.4" stroke="#000" stroke-width="1.1"/>
<line x1="336.28" y1="100.2" x2="336.28" y2="102" stroke="#000" stroke-width="1.1"/>
<line x1="374.23" y1="100.2" x2="374.23" y2="98.4" stroke="#000" stroke-width="1.1"/>
<line x1="374.23" y1="100.2" x2="374.23" y2="102" stroke="#000" stroke-width="1.1"/>
<line x1="412.18" y1="100.2" x2="412.18" y2="98.4" stroke="#000" stroke-width="1.1"/>
<line x1="412.18" y1="100.2" x2="412.18" y2="102" stroke="#000" stroke-width="1.1"/>
<line x1="450.12" y1="100.2" x2="450.12" y2="98.4" stroke="#000" stroke-width="1.1"/>
<line x1="450.12" y1="100.2" x2="450.12" y2="102" stroke="#000" stroke-width="1.1"/>
<line x1="488.08" y1="100.2" x2="488.08" y2="98.4" stroke="#000" stroke-width="1.1"/>
<line x1="488.08" y1="100.2" x2="488.08" y2="102" stroke="#000" stroke-width="1.1"/>
<line x1="317.3" y1="178" x2="317.3" y2="174.8" stroke="#000" stroke-width="1.1"/>
<line x1="317.3" y1="178" x2="317.3" y2="181.2" stroke="#000" stroke-width="1.1"/>
<line x1="355.25" y1="178" x2="355.25" y2="174.8" stroke="#000" stroke-width="1.1"/>
<line x1="355.25" y1="178" x2="355.25" y2="181.2" stroke="#000" stroke-width="1.1"/>
<line x1="393.2" y1="178" x2="393.2" y2="174.8" stroke="#000" stroke-width="1.1"/>
<line x1="393.2" y1="178" x2="393.2" y2="181.2" stroke="#000" stroke-width="1.1"/>
<line x1="431.15" y1="178" x2="431.15" y2="174.8" stroke="#000" stroke-width="1.1"/>
<line x1="431.15" y1="178" x2="431.15" y2="181.2" stroke="#000" stroke-width="1.1"/>
<line x1="469.1" y1="178" x2="469.1" y2="174.8" stroke="#000" stroke-width="1.1"/>
<line x1="469.1" y1="178" x2="469.1" y2="181.2" stroke="#000" stroke-width="1.1"/>
<line x1="507.05" y1="178" x2="507.05" y2="174.8" stroke="#000" stroke-width="1.1"/>
<line x1="507.05" y1="178" x2="507.05" y2="181.2" stroke="#000" stroke-width="1.1"/>
<line x1="336.28" y1="178" x2="336.28" y2="176.2" stroke="#000" stroke-width="1.1"/>
<line x1="336.28" y1="178" x2="336.28" y2="179.8" stroke="#000" stroke-width="1.1"/>
<line x1="374.23" y1="178" x2="374.23" y2="176.2" stroke="#000" stroke-width="1.1"/>
<line x1="374.23" y1="178" x2="374.23" y2="179.8" stroke="#000" stroke-width="1.1"/>
<line x1="412.18" y1="178" x2="412.18" y2="176.2" stroke="#000" stroke-width="1.1"/>
<line x1="412.18" y1="178" x2="412.18" y2="179.8" stroke="#000" stroke-width="1.1"/>
<line x1="450.12" y1="178" x2="450.12" y2="176.2" stroke="#000" stroke-width="1.1"/>
<line x1="450.12" y1="178" x2="450.12" y2="179.8" stroke="#000" stroke-width="1.1"/>
<line x1="488.08" y1="178" x2="488.08" y2="176.2" stroke="#000" stroke-width="1.1"/>
<line x1="488.08" y1="178" x2="488.08" y2="179.8" stroke="#000" stroke-width="1.1"/>
<line x1="317.3" y1="256.3" x2="317.3" y2="253.1" stroke="#000" stroke-width="1.1"/>
<line x1="317.3" y1="256.3" x2="317.3" y2="259.5" stroke="#000" stroke-width="1.1"/>
<line x1="355.25" y1="256.3" x2="355.25" y2="253.1" stroke="#000" stroke-width="1.1"/>
<line x1="355.25" y1="256.3" x2="355.25" y2="259.5" stroke="#000" stroke-width="1.1"/>
<line x1="393.2" y1="256.3" x2="393.2" y2="253.1" stroke="#000" stroke-width="1.1"/>
<line x1="393.2" y1="256.3" x2="393.2" y2="259.5" stroke="#000" stroke-width="1.1"/>
<line x1="431.15" y1="256.3" x2="431.15" y2="253.1" stroke="#000" stroke-width="1.1"/>
<line x1="431.15" y1="256.3" x2="431.15" y2="259.5" stroke="#000" stroke-width="1.1"/>
<line x1="469.1" y1="256.3" x2="469.1" y2="253.1" stroke="#000" stroke-width="1.1"/>
<line x1="469.1" y1="256.3" x2="469.1" y2="259.5" stroke="#000" stroke-width="1.1"/>
<line x1="507.05" y1="256.3" x2="507.05" y2="253.1" stroke="#000" stroke-width="1.1"/>
<line x1="507.05" y1="256.3" x2="507.05" y2="259.5" stroke="#000" stroke-width="1.1"/>
<line x1="336.28" y1="256.3" x2="336.28" y2="254.5" stroke="#000" stroke-width="1.1"/>
<line x1="336.28" y1="256.3" x2="336.28" y2="258.1" stroke="#000" stroke-width="1.1"/>
<line x1="374.23" y1="256.3" x2="374.23" y2="254.5" stroke="#000" stroke-width="1.1"/>
<line x1="374.23" y1="256.3" x2="374.23" y2="258.1" stroke="#000" stroke-width="1.1"/>
<line x1="412.18" y1="256.3" x2="412.18" y2="254.5" stroke="#000" stroke-width="1.1"/>
<line x1="412.18" y1="256.3" x2="412.18" y2="258.1" stroke="#000" stroke-width="1.1"/>
<line x1="450.12" y1="256.3" x2="450.12" y2="254.5" stroke="#000" stroke-width="1.1"/>
<line x1="450.12" y1="256.3" x2="450.12" y2="258.1" stroke="#000" stroke-width="1.1"/>
<line x1="488.08" y1="256.3" x2="488.08" y2="254.5" stroke="#000" stroke-width="1.1"/>
<line x1="488.08" y1="256.3" x2="488.08" y2="258.1" stroke="#000" stroke-width="1.1"/>
<line x1="317.3" y1="334.2" x2="317.3" y2="331" stroke="#000" stroke-width="1.1"/>
<line x1="355.25" y1="334.2" x2="355.25" y2="331" stroke="#000" stroke-width="1.1"/>
<line x1="393.2" y1="334.2" x2="393.2" y2="331" stroke="#000" stroke-width="1.1"/>
<line x1="431.15" y1="334.2" x2="431.15" y2="331" stroke="#000" stroke-width="1.1"/>
<line x1="469.1" y1="334.2" x2="469.1" y2="331" stroke="#000" stroke-width="1.1"/>
<line x1="507.05" y1="334.2" x2="507.05" y2="331" stroke="#000" stroke-width="1.1"/>
<line x1="336.28" y1="334.2" x2="336.28" y2="332.4" stroke="#000" stroke-width="1.1"/>
<line x1="374.23" y1="334.2" x2="374.23" y2="332.4" stroke="#000" stroke-width="1.1"/>
<line x1="412.18" y1="334.2" x2="412.18" y2="332.4" stroke="#000" stroke-width="1.1"/>
<line x1="450.12" y1="334.2" x2="450.12" y2="332.4" stroke="#000" stroke-width="1.1"/>
<line x1="488.08" y1="334.2" x2="488.08" y2="332.4" stroke="#000" stroke-width="1.1"/>
<line x1="310.5" y1="27.2" x2="313.7" y2="27.2" stroke="#000" stroke-width="1.1"/>
<line x1="513.7" y1="27.2" x2="510.5" y2="27.2" stroke="#000" stroke-width="1.1"/>
<line x1="310.5" y1="46.9" x2="313.7" y2="46.9" stroke="#000" stroke-width="1.1"/>
<line x1="513.7" y1="46.9" x2="510.5" y2="46.9" stroke="#000" stroke-width="1.1"/>
<line x1="310.5" y1="66.6" x2="313.7" y2="66.6" stroke="#000" stroke-width="1.1"/>
<line x1="513.7" y1="66.6" x2="510.5" y2="66.6" stroke="#000" stroke-width="1.1"/>
<line x1="310.5" y1="86.3" x2="313.7" y2="86.3" stroke="#000" stroke-width="1.1"/>
<line x1="513.7" y1="86.3" x2="510.5" y2="86.3" stroke="#000" stroke-width="1.1"/>
<line x1="310.5" y1="37.05" x2="312.3" y2="37.05" stroke="#000" stroke-width="1.1"/>
<line x1="513.7" y1="37.05" x2="511.9" y2="37.05" stroke="#000" stroke-width="1.1"/>
<line x1="310.5" y1="56.75" x2="312.3" y2="56.75" stroke="#000" stroke-width="1.1"/>
<line x1="513.7" y1="56.75" x2="511.9" y2="56.75" stroke="#000" stroke-width="1.1"/>
<line x1="310.5" y1="76.45" x2="312.3" y2="76.45" stroke="#000" stroke-width="1.1"/>
<line x1="513.7" y1="76.45" x2="511.9" y2="76.45" stroke="#000" stroke-width="1.1"/>
<line x1="310.5" y1="96.15" x2="312.3" y2="96.15" stroke="#000" stroke-width="1.1"/>
<line x1="513.7" y1="96.15" x2="511.9" y2="96.15" stroke="#000" stroke-width="1.1"/>
<text x="305.8" y="30.2" font-family="'Liberation Serif', 'Times New Roman', serif" font-size="9.7" font-weight="bold" text-anchor="end" fill="#000">32.4</text>
<text x="305.8" y="49.9" font-family="'Liberation Serif', 'Times New Roman', serif" font-size="9.7" font-weight="bold" text-anchor="end" fill="#000">28.8</text>
<text x="305.8" y="69.6" font-family="'Liberation Serif', 'Times New Roman', serif" font-size="9.7" font-weight="bold" text-anchor="end" fill="#000">25.2</text>
<text x="305.8" y="89.3" font-family="'Liberation Serif', 'Times New Roman', serif" font-size="9.7" font-weight="bold" text-anchor="end" fill="#000">21.6</text>
<polyline points="317.3,89.4 340.07,89.4 355.25,89.5 370.43,89.8 393.2,90.1 415.97,90.3 431.15,90.4 446.33,90.6 469.1,90.8 491.87,91 507.05,91.2" fill="none" stroke="#e23a40" stroke-width="1.6" stroke-linejoin="round"/>
<polygon points="317.3,86.5 318.07,88.34 320.06,88.5 318.54,89.8 319,91.75 317.3,90.71 315.6,91.75 316.06,89.8 314.54,88.5 316.53,88.34" fill="#e23a40"/>
<polygon points="340.07,86.5 340.84,88.34 342.83,88.5 341.31,89.8 341.77,91.75 340.07,90.71 338.37,91.75 338.83,89.8 337.31,88.5 339.3,88.34" fill="#e23a40"/>
<polygon points="355.25,86.6 356.02,88.44 358.01,88.6 356.49,89.9 356.95,91.85 355.25,90.81 353.55,91.85 354.01,89.9 352.49,88.6 354.48,88.44" fill="#e23a40"/>
<polygon points="370.43,86.9 371.2,88.74 373.19,88.9 371.67,90.2 372.13,92.15 370.43,91.11 368.73,92.15 369.19,90.2 367.67,88.9 369.66,88.74" fill="#e23a40"/>
<polygon points="393.2,87.2 393.97,89.04 395.96,89.2 394.44,90.5 394.9,92.45 393.2,91.41 391.5,92.45 391.96,90.5 390.44,89.2 392.43,89.04" fill="#e23a40"/>
<polygon points="415.97,87.4 416.74,89.24 418.73,89.4 417.21,90.7 417.67,92.65 415.97,91.61 414.27,92.65 414.73,90.7 413.21,89.4 415.2,89.24" fill="#e23a40"/>
<polygon points="431.15,87.5 431.92,89.34 433.91,89.5 432.39,90.8 432.85,92.75 431.15,91.71 429.45,92.75 429.91,90.8 428.39,89.5 430.38,89.34" fill="#e23a40"/>
<polygon points="446.33,87.7 447.1,89.54 449.09,89.7 447.57,91 448.03,92.95 446.33,91.91 444.63,92.95 445.09,91 443.57,89.7 445.56,89.54" fill="#e23a40"/>
<polygon points="469.1,87.9 469.87,89.74 471.86,89.9 470.34,91.2 470.8,93.15 469.1,92.11 467.4,93.15 467.86,91.2 466.34,89.9 468.33,89.74" fill="#e23a40"/>
<polygon points="491.87,88.1 492.64,89.94 494.63,90.1 493.11,91.4 493.57,93.35 491.87,92.31 490.17,93.35 490.63,91.4 489.11,90.1 491.1,89.94" fill="#e23a40"/>
<polygon points="507.05,88.3 507.82,90.14 509.81,90.3 508.29,91.6 508.75,93.55 507.05,92.51 505.35,93.55 505.81,91.6 504.29,90.3 506.28,90.14" fill="#e23a40"/>
<polyline points="317.3,29.5 340.07,29.7 355.25,29.9 370.43,30.4 393.2,31 415.97,31.8 431.15,32.2 446.33,32.6 469.1,33.2 491.87,33.7 507.05,33.9" fill="none" stroke="#0a0af0" stroke-width="1.6" stroke-linejoin="round"/>
<circle cx="317.3" cy="29.5" r="2.3" fill="#0a0af0"/>
<circle cx="340.07" cy="29.7" r="2.3" fill="#0a0af0"/>
<circle cx="355.25" cy="29.9" r="2.3" fill="#0a0af0"/>
<circle cx="370.43" cy="30.4" r="2.3" fill="#0a0af0"/>
<circle cx="393.2" cy="31" r="2.3" fill="#0a0af0"/>
<circle cx="415.97" cy="31.8" r="2.3" fill="#0a0af0"/>
<circle cx="431.15" cy="32.2" r="2.3" fill="#0a0af0"/>
<circle cx="446.33" cy="32.6" r="2.3" fill="#0a0af0"/>
<circle cx="469.1" cy="33.2" r="2.3" fill="#0a0af0"/>
<circle cx="491.87" cy="33.7" r="2.3" fill="#0a0af0"/>
<circle cx="507.05" cy="33.9" r="2.3" fill="#0a0af0"/>
<line x1="310.5" y1="101" x2="313.7" y2="101" stroke="#000" stroke-width="1.1"/>
<line x1="513.7" y1="101" x2="510.5" y2="101" stroke="#000" stroke-width="1.1"/>
<line x1="310.5" y1="121.1" x2="313.7" y2="121.1" stroke="#000" stroke-width="1.1"/>
<line x1="513.7" y1="121.1" x2="510.5" y2="121.1" stroke="#000" stroke-width="1.1"/>
<line x1="310.5" y1="141.2" x2="313.7" y2="141.2" stroke="#000" stroke-width="1.1"/>
<line x1="513.7" y1="141.2" x2="510.5" y2="141.2" stroke="#000" stroke-width="1.1"/>
<line x1="310.5" y1="161.3" x2="313.7" y2="161.3" stroke="#000" stroke-width="1.1"/>
<line x1="513.7" y1="161.3" x2="510.5" y2="161.3" stroke="#000" stroke-width="1.1"/>
<line x1="310.5" y1="111.05" x2="312.3" y2="111.05" stroke="#000" stroke-width="1.1"/>
<line x1="513.7" y1="111.05" x2="511.9" y2="111.05" stroke="#000" stroke-width="1.1"/>
<line x1="310.5" y1="131.15" x2="312.3" y2="131.15" stroke="#000" stroke-width="1.1"/>
<line x1="513.7" y1="131.15" x2="511.9" y2="131.15" stroke="#000" stroke-width="1.1"/>
<line x1="310.5" y1="151.25" x2="312.3" y2="151.25" stroke="#000" stroke-width="1.1"/>
<line x1="513.7" y1="151.25" x2="511.9" y2="151.25" stroke="#000" stroke-width="1.1"/>
<line x1="310.5" y1="171.35" x2="312.3" y2="171.35" stroke="#000" stroke-width="1.1"/>
<line x1="513.7" y1="171.35" x2="511.9" y2="171.35" stroke="#000" stroke-width="1.1"/>
<text x="305.8" y="104" font-family="'Liberation Serif', 'Times New Roman', serif" font-size="9.7" font-weight="bold" text-anchor="end" fill="#000">86.4</text>
<text x="305.8" y="124.1" font-family="'Liberation Serif', 'Times New Roman', serif" font-size="9.7" font-weight="bold" text-anchor="end" fill="#000">84.0</text>
<text x="305.8" y="144.2" font-family="'Liberation Serif', 'Times New Roman', serif" font-size="9.7" font-weight="bold" text-anchor="end" fill="#000">81.6</text>
<text x="305.8" y="164.3" font-family="'Liberation Serif', 'Times New Roman', serif" font-size="9.7" font-weight="bold" text-anchor="end" fill="#000">79.2</text>
<polyline points="317.3,161.8 340.07,161.8 355.25,161.8 370.43,161.8 393.2,161.8 415.97,161.8 431.15,161.8 446.33,161.8 469.1,161.8 491.87,161.8 507.05,161.8" fill="none" stroke="#e23a40" stroke-width="1.6" stroke-linejoin="round"/>
<polygon points="317.3,158.9 318.07,160.74 320.06,160.9 318.54,162.2 319,164.15 317.3,163.11 315.6,164.15 316.06,162.2 314.54,160.9 316.53,160.74" fill="#e23a40"/>
<polygon points="340.07,158.9 340.84,160.74 342.83,160.9 341.31,162.2 341.77,164.15 340.07,163.11 338.37,164.15 338.83,162.2 337.31,160.9 339.3,160.74" fill="#e23a40"/>
<polygon points="355.25,158.9 356.02,160.74 358.01,160.9 356.49,162.2 356.95,164.15 355.25,163.11 353.55,164.15 354.01,162.2 352.49,160.9 354.48,160.74" fill="#e23a40"/>
<polygon points="370.43,158.9 371.2,160.74 373.19,160.9 371.67,162.2 372.13,164.15 370.43,163.11 368.73,164.15 369.19,162.2 367.67,160.9 369.66,160.74" fill="#e23a40"/>
<polygon points="393.2,158.9 393.97,160.74 395.96,160.9 394.44,162.2 394.9,164.15 393.2,163.11 391.5,164.15 391.96,162.2 390.44,160.9 392.43,160.74" fill="#e23a40"/>
<polygon points="415.97,158.9 416.74,160.74 418.73,160.9 417.21,162.2 417.67,164.15 415.97,163.11 414.27,164.15 414.73,162.2 413.21,160.9 415.2,160.74" fill="#e23a40"/>
<polygon points="431.15,158.9 431.92,160.74 433.91,160.9 432.39,162.2 432.85,164.15 431.15,163.11 429.45,164.15 429.91,162.2 428.39,160.9 430.38,160.74" fill="#e23a40"/>
<polygon points="446.33,158.9 447.1,160.74 449.09,160.9 447.57,162.2 448.03,164.15 446.33,163.11 444.63,164.15 445.09,162.2 443.57,160.9 445.56,160.74" fill="#e23a40"/>
<polygon points="469.1,158.9 469.87,160.74 471.86,160.9 470.34,162.2 470.8,164.15 469.1,163.11 467.4,164.15 467.86,162.2 466.34,160.9 468.33,160.74" fill="#e23a40"/>
<polygon points="491.87,158.9 492.64,160.74 494.63,160.9 493.11,162.2 493.57,164.15 491.87,163.11 490.17,164.15 490.63,162.2 489.11,160.9 491.1,160.74" fill="#e23a40"/>
<polygon points="507.05,158.9 507.82,160.74 509.81,160.9 508.29,162.2 508.75,164.15 507.05,163.11 505.35,164.15 505.81,162.2 504.29,160.9 506.28,160.74" fill="#e23a40"/>
<polyline points="317.3,106.8 340.07,106.8 355.25,106.8 370.43,106.8 393.2,106.8 415.97,106.8 431.15,106.8 446.33,106.8 469.1,106.8 491.87,106.8 507.05,106.8" fill="none" stroke="#0a0af0" stroke-width="1.6" stroke-linejoin="round"/>
<circle cx="317.3" cy="106.8" r="2.3" fill="#0a0af0"/>
<circle cx="340.07" cy="106.8" r="2.3" fill="#0a0af0"/>
<circle cx="355.25" cy="106.8" r="2.3" fill="#0a0af0"/>
<circle cx="370.43" cy="106.8" r="2.3" fill="#0a0af0"/>
<circle cx="393.2" cy="106.8" r="2.3" fill="#0a0af0"/>
<circle cx="415.97" cy="106.8" r="2.3" fill="#0a0af0"/>
<circle cx="431.15" cy="106.8" r="2.3" fill="#0a0af0"/>
<circle cx="446.33" cy="106.8" r="2.3" fill="#0a0af0"/>
<circle cx="469.1" cy="106.8" r="2.3" fill="#0a0af0"/>
<circle cx="491.87" cy="106.8" r="2.3" fill="#0a0af0"/>
<circle cx="507.05" cy="106.8" r="2.3" fill="#0a0af0"/>
<line x1="310.5" y1="188.3" x2="313.7" y2="188.3" stroke="#000" stroke-width="1.1"/>
<line x1="513.7" y1="188.3" x2="510.5" y2="188.3" stroke="#000" stroke-width="1.1"/>
<line x1="310.5" y1="207.5" x2="313.7" y2="207.5" stroke="#000" stroke-width="1.1"/>
<line x1="513.7" y1="207.5" x2="510.5" y2="207.5" stroke="#000" stroke-width="1.1"/>
<line x1="310.5" y1="226.7" x2="313.7" y2="226.7" stroke="#000" stroke-width="1.1"/>
<line x1="513.7" y1="226.7" x2="510.5" y2="226.7" stroke="#000" stroke-width="1.1"/>
<line x1="310.5" y1="245.9" x2="313.7" y2="245.9" stroke="#000" stroke-width="1.1"/>
<line x1="513.7" y1="245.9" x2="510.5" y2="245.9" stroke="#000" stroke-width="1.1"/>
<line x1="310.5" y1="197.9" x2="312.3" y2="197.9" stroke="#000" stroke-width="1.1"/>
<line x1="513.7" y1="197.9" x2="511.9" y2="197.9" stroke="#000" stroke-width="1.1"/>
<line x1="310.5" y1="217.1" x2="312.3" y2="217.1" stroke="#000" stroke-width="1.1"/>
<line x1="513.7" y1="217.1" x2="511.9" y2="217.1" stroke="#000" stroke-width="1.1"/>
<line x1="310.5" y1="236.3" x2="312.3" y2="236.3" stroke="#000" stroke-width="1.1"/>
<line x1="513.7" y1="236.3" x2="511.9" y2="236.3" stroke="#000" stroke-width="1.1"/>
<text x="305.8" y="191.3" font-family="'Liberation Serif', 'Times New Roman', serif" font-size="9.7" font-weight="bold" text-anchor="end" fill="#000">41.6</text>
<text x="305.8" y="210.5" font-family="'Liberation Serif', 'Times New Roman', serif" font-size="9.7" font-weight="bold" text-anchor="end" fill="#000">40.0</text>
<text x="305.8" y="229.7" font-family="'Liberation Serif', 'Times New Roman', serif" font-size="9.7" font-weight="bold" text-anchor="end" fill="#000">38.4</text>
<text x="305.8" y="248.9" font-family="'Liberation Serif', 'Times New Roman', serif" font-size="9.7" font-weight="bold" text-anchor="end" fill="#000">36.8</text>
<polyline points="317.3,239.3 340.07,239.8 355.25,240.7 370.43,241.8 393.2,243 415.97,244.6 431.15,246 446.33,247.4 469.1,248.8 491.87,249.9 507.05,251.1" fill="none" stroke="#e23a40" stroke-width="1.6" stroke-linejoin="round"/>
<polygon points="317.3,236.4 318.07,238.24 320.06,238.4 318.54,239.7 319,241.65 317.3,240.61 315.6,241.65 316.06,239.7 314.54,238.4 316.53,238.24" fill="#e23a40"/>
<polygon points="340.07,236.9 340.84,238.74 342.83,238.9 341.31,240.2 341.77,242.15 340.07,241.11 338.37,242.15 338.83,240.2 337.31,238.9 339.3,238.74" fill="#e23a40"/>
<polygon points="355.25,237.8 356.02,239.64 358.01,239.8 356.49,241.1 356.95,243.05 355.25,242 353.55,243.05 354.01,241.1 352.49,239.8 354.48,239.64" fill="#e23a40"/>
<polygon points="370.43,238.9 371.2,240.74 373.19,240.9 371.67,242.2 372.13,244.15 370.43,243.11 368.73,244.15 369.19,242.2 367.67,240.9 369.66,240.74" fill="#e23a40"/>
<polygon points="393.2,240.1 393.97,241.94 395.96,242.1 394.44,243.4 394.9,245.35 393.2,244.31 391.5,245.35 391.96,243.4 390.44,242.1 392.43,241.94" fill="#e23a40"/>
<polygon points="415.97,241.7 416.74,243.54 418.73,243.7 417.21,245 417.67,246.95 415.97,245.91 414.27,246.95 414.73,245 413.21,243.7 415.2,243.54" fill="#e23a40"/>
<polygon points="431.15,243.1 431.92,244.94 433.91,245.1 432.39,246.4 432.85,248.35 431.15,247.31 429.45,248.35 429.91,246.4 428.39,245.1 430.38,244.94" fill="#e23a40"/>
<polygon points="446.33,244.5 447.1,246.34 449.09,246.5 447.57,247.8 448.03,249.75 446.33,248.71 444.63,249.75 445.09,247.8 443.57,246.5 445.56,246.34" fill="#e23a40"/>
<polygon points="469.1,245.9 469.87,247.74 471.86,247.9 470.34,249.2 470.8,251.15 469.1,250.11 467.4,251.15 467.86,249.2 466.34,247.9 468.33,247.74" fill="#e23a40"/>
<polygon points="491.87,247 492.64,248.84 494.63,249 493.11,250.3 493.57,252.25 491.87,251.21 490.17,252.25 490.63,250.3 489.11,249 491.1,248.84" fill="#e23a40"/>
<polygon points="507.05,248.2 507.82,250.04 509.81,250.2 508.29,251.5 508.75,253.45 507.05,252.41 505.35,253.45 505.81,251.5 504.29,250.2 506.28,250.04" fill="#e23a40"/>
<polyline points="317.3,184.4 340.07,184.8 355.25,185.5 370.43,186.7 393.2,188.3 415.97,190.2 431.15,191.1 446.33,192.2 469.1,194.1 491.87,195.5 507.05,196.4" fill="none" stroke="#0a0af0" stroke-width="1.6" stroke-linejoin="round"/>
<circle cx="317.3" cy="184.4" r="2.3" fill="#0a0af0"/>
<circle cx="340.07" cy="184.8" r="2.3" fill="#0a0af0"/>
<circle cx="355.25" cy="185.5" r="2.3" fill="#0a0af0"/>
<circle cx="370.43" cy="186.7" r="2.3" fill="#0a0af0"/>
<circle cx="393.2" cy="188.3" r="2.3" fill="#0a0af0"/>
<circle cx="415.97" cy="190.2" r="2.3" fill="#0a0af0"/>
<circle cx="431.15" cy="191.1" r="2.3" fill="#0a0af0"/>
<circle cx="446.33" cy="192.2" r="2.3" fill="#0a0af0"/>
<circle cx="469.1" cy="194.1" r="2.3" fill="#0a0af0"/>
<circle cx="491.87" cy="195.5" r="2.3" fill="#0a0af0"/>
<circle cx="507.05" cy="196.4" r="2.3" fill="#0a0af0"/>
<line x1="310.5" y1="258.8" x2="313.7" y2="258.8" stroke="#000" stroke-width="1.1"/>
<line x1="513.7" y1="258.8" x2="510.5" y2="258.8" stroke="#000" stroke-width="1.1"/>
<line x1="310.5" y1="278.2" x2="313.7" y2="278.2" stroke="#000" stroke-width="1.1"/>
<line x1="513.7" y1="278.2" x2="510.5" y2="278.2" stroke="#000" stroke-width="1.1"/>
<line x1="310.5" y1="297.6" x2="313.7" y2="297.6" stroke="#000" stroke-width="1.1"/>
<line x1="513.7" y1="297.6" x2="510.5" y2="297.6" stroke="#000" stroke-width="1.1"/>
<line x1="310.5" y1="317" x2="313.7" y2="317" stroke="#000" stroke-width="1.1"/>
<line x1="513.7" y1="317" x2="510.5" y2="317" stroke="#000" stroke-width="1.1"/>
<line x1="310.5" y1="268.5" x2="312.3" y2="268.5" stroke="#000" stroke-width="1.1"/>
<line x1="513.7" y1="268.5" x2="511.9" y2="268.5" stroke="#000" stroke-width="1.1"/>
<line x1="310.5" y1="287.9" x2="312.3" y2="287.9" stroke="#000" stroke-width="1.1"/>
<line x1="513.7" y1="287.9" x2="511.9" y2="287.9" stroke="#000" stroke-width="1.1"/>
<line x1="310.5" y1="307.3" x2="312.3" y2="307.3" stroke="#000" stroke-width="1.1"/>
<line x1="513.7" y1="307.3" x2="511.9" y2="307.3" stroke="#000" stroke-width="1.1"/>
<line x1="310.5" y1="326.7" x2="312.3" y2="326.7" stroke="#000" stroke-width="1.1"/>
<line x1="513.7" y1="326.7" x2="511.9" y2="326.7" stroke="#000" stroke-width="1.1"/>
<text x="305.8" y="261.8" font-family="'Liberation Serif', 'Times New Roman', serif" font-size="9.7" font-weight="bold" text-anchor="end" fill="#000">0.91</text>
<text x="305.8" y="281.2" font-family="'Liberation Serif', 'Times New Roman', serif" font-size="9.7" font-weight="bold" text-anchor="end" fill="#000">0.86</text>
<text x="305.8" y="300.6" font-family="'Liberation Serif', 'Times New Roman', serif" font-size="9.7" font-weight="bold" text-anchor="end" fill="#000">0.80</text>
<text x="305.8" y="320" font-family="'Liberation Serif', 'Times New Roman', serif" font-size="9.7" font-weight="bold" text-anchor="end" fill="#000">0.74</text>
<polyline points="317.3,326.3 340.07,326.3 355.25,326.3 370.43,326.3 393.2,326.3 415.97,326.3 431.15,326.3 446.33,326.3 469.1,326.3 491.87,326.3 507.05,326.3" fill="none" stroke="#e23a40" stroke-width="1.6" stroke-linejoin="round"/>
<polygon points="317.3,323.4 318.07,325.24 320.06,325.4 318.54,326.7 319,328.65 317.3,327.61 315.6,328.65 316.06,326.7 314.54,325.4 316.53,325.24" fill="#e23a40"/>
<polygon points="340.07,323.4 340.84,325.24 342.83,325.4 341.31,326.7 341.77,328.65 340.07,327.61 338.37,328.65 338.83,326.7 337.31,325.4 339.3,325.24" fill="#e23a40"/>
<polygon points="355.25,323.4 356.02,325.24 358.01,325.4 356.49,326.7 356.95,328.65 355.25,327.61 353.55,328.65 354.01,326.7 352.49,325.4 354.48,325.24" fill="#e23a40"/>
<polygon points="370.43,323.4 371.2,325.24 373.19,325.4 371.67,326.7 372.13,328.65 370.43,327.61 368.73,328.65 369.19,326.7 367.67,325.4 369.66,325.24" fill="#e23a40"/>
<polygon points="393.2,323.4 393.97,325.24 395.96,325.4 394.44,326.7 394.9,328.65 393.2,327.61 391.5,328.65 391.96,326.7 390.44,325.4 392.43,325.24" fill="#e23a40"/>
<polygon points="415.97,323.4 416.74,325.24 418.73,325.4 417.21,326.7 417.67,328.65 415.97,327.61 414.27,328.65 414.73,326.7 413.21,325.4 415.2,325.24" fill="#e23a40"/>
<polygon points="431.15,323.4 431.92,325.24 433.91,325.4 432.39,326.7 432.85,328.65 431.15,327.61 429.45,328.65 429.91,326.7 428.39,325.4 430.38,325.24" fill="#e23a40"/>
<polygon points="446.33,323.4 447.1,325.24 449.09,325.4 447.57,326.7 448.03,328.65 446.33,327.61 444.63,328.65 445.09,326.7 443.57,325.4 445.56,325.24" fill="#e23a40"/>
<polygon points="469.1,323.4 469.87,325.24 471.86,325.4 470.34,326.7 470.8,328.65 469.1,327.61 467.4,328.65 467.86,326.7 466.34,325.4 468.33,325.24" fill="#e23a40"/>
<polygon points="491.87,323.4 492.64,325.24 494.63,325.4 493.11,326.7 493.57,328.65 491.87,327.61 490.17,328.65 490.63,326.7 489.11,325.4 491.1,325.24" fill="#e23a40"/>
<polygon points="507.05,323.4 507.82,325.24 509.81,325.4 508.29,326.7 508.75,328.65 507.05,327.61 505.35,328.65 505.81,326.7 504.29,325.4 506.28,325.24" fill="#e23a40"/>
<polyline points="317.3,266.3 340.07,266.3 355.25,266.3 370.43,266.3 393.2,266.3 415.97,266.3 431.15,266.3 446.33,266.3 469.1,266.3 491.87,266.3 507.05,266.3" fill="none" stroke="#0a0af0" stroke-width="1.6" stroke-linejoin="round"/>
<circle cx="317.3" cy="266.3" r="2.3" fill="#0a0af0"/>
<circle cx="340.07" cy="266.3" r="2.3" fill="#0a0af0"/>
<circle cx="355.25" cy="266.3" r="2.3" fill="#0a0af0"/>
<circle cx="370.43" cy="266.3" r="2.3" fill="#0a0af0"/>
<circle cx="393.2" cy="266.3" r="2.3" fill="#0a0af0"/>
<circle cx="415.97" cy="266.3" r="2.3" fill="#0a0af0"/>
<circle cx="431.15" cy="266.3" r="2.3" fill="#0a0af0"/>
<circle cx="446.33" cy="266.3" r="2.3" fill="#0a0af0"/>
<circle cx="469.1" cy="266.3" r="2.3" fill="#0a0af0"/>
<circle cx="491.87" cy="266.3" r="2.3" fill="#0a0af0"/>
<circle cx="507.05" cy="266.3" r="2.3" fill="#0a0af0"/>
<text x="317.3" y="346.4" font-family="'Liberation Serif', 'Times New Roman', serif" font-size="9.4" font-weight="bold" text-anchor="middle" fill="#000">0.05</text>
<text x="355.25" y="346.4" font-family="'Liberation Serif', 'Times New Roman', serif" font-size="9.4" font-weight="bold" text-anchor="middle" fill="#000">0.10</text>
<text x="393.2" y="346.4" font-family="'Liberation Serif', 'Times New Roman', serif" font-size="9.4" font-weight="bold" text-anchor="middle" fill="#000">0.15</text>
<text x="431.15" y="346.4" font-family="'Liberation Serif', 'Times New Roman', serif" font-size="9.4" font-weight="bold" text-anchor="middle" fill="#000">0.20</text>
<text x="469.1" y="346.4" font-family="'Liberation Serif', 'Times New Roman', serif" font-size="9.4" font-weight="bold" text-anchor="middle" fill="#000">0.25</text>
<text x="507.05" y="346.4" font-family="'Liberation Serif', 'Times New Roman', serif" font-size="9.4" font-weight="bold" text-anchor="middle" fill="#000">0.30</text>
<text x="412.1" y="360.5" font-family="'Liberation Serif', 'Times New Roman', serif" font-size="11.4" font-weight="bold" text-anchor="middle" fill="#000">Thickness of ZnSe Buffer layer (μm)</text>
<text x="283" y="57.8" font-family="'Liberation Serif', 'Times New Roman', serif" font-size="12" font-weight="normal" text-anchor="middle" transform="rotate(-90 283 57.8)">η(%)</text>
<text x="281" y="135.7" font-family="'Liberation Serif', 'Times New Roman', serif" font-size="11.8" font-weight="bold" text-anchor="middle" transform="rotate(-90 281 135.7)">FF(%)</text>
<text x="282" y="214.7" font-family="'Liberation Serif', 'Times New Roman', serif" font-size="11.8" font-weight="bold" text-anchor="middle" transform="rotate(-90 282 214.7)">J<tspan font-size="8" dy="2.5">sc</tspan><tspan dy="-2.5">(mA/cm</tspan><tspan font-size="7.5" dy="-4.5">2</tspan><tspan dy="4.5">)</tspan></text>
<text x="283" y="290.8" font-family="'Liberation Serif', 'Times New Roman', serif" font-size="11.8" font-weight="bold" text-anchor="middle" transform="rotate(-90 283 290.8)">V<tspan font-size="8" dy="2.5">oc</tspan><tspan dy="-2.5">(V)</tspan></text>
<rect x="324.9" y="1.4" width="180.1" height="16.6" fill="#fff" stroke="#c8c8c8" stroke-width="0.8"/>
<line x1="327" y1="9.7" x2="352.3" y2="9.7" stroke="#0a0af0" stroke-width="1.6"/>
<circle cx="339.65" cy="9.7" r="2.3" fill="#0a0af0"/>
<text x="356.6" y="13.6" font-family="'Liberation Serif', 'Times New Roman', serif" font-size="11.55" font-weight="bold" text-anchor="start" fill="#000">With BSF</text>
<line x1="410.4" y1="9.7" x2="435.8" y2="9.7" stroke="#e23a40" stroke-width="1.6"/>
<polygon points="423.1,6.9 423.84,8.68 425.76,8.83 424.3,10.09 424.75,11.97 423.1,10.96 421.45,11.97 421.9,10.09 420.44,8.83 422.36,8.68" fill="#e23a40"/>
<text x="439.2" y="13.6" font-family="'Liberation Serif', 'Times New Roman', serif" font-size="11.45" font-weight="bold" text-anchor="start" fill="#000">Without BSF</text>
<text x="272.2" y="14.4" font-family="'Liberation Serif', 'Times New Roman', serif" font-size="17.4" font-weight="normal" text-anchor="start" fill="#000">(b)</text>
<text x="65.9" y="399.9" font-family="'Liberation Serif', 'Times New Roman', serif" font-size="13.5" font-weight="bold" text-anchor="start" fill="#000">(c) Hole concentration</text>
<line x1="43.8" y1="537.5" x2="43.8" y2="452" stroke="#000" stroke-width="1"/>
<polyline points="35.8,531 36.8,527 38.5,524.3 40.5,522.6 42.5,522.2 43.8,523" fill="none" stroke="#ff1010" stroke-width="2.4" stroke-linejoin="round"/>
<polyline points="35.8,541 36.8,538 38.5,536 40.5,534.6 42.5,534.4 43.8,536 44.2,537.5" fill="none" stroke="#1a1a70" stroke-width="2.4" stroke-linejoin="round"/>
<polyline points="43.5,451.2 44.2,451.2 45.2,456.5 46.5,458.9 213.5,458.9 215.5,456.5 217.5,450 218.8,440" fill="none" stroke="#e8203a" stroke-width="1.9" stroke-linejoin="round"/>
<polyline points="44.2,453 45.4,458.5 46.8,462 213.5,462 215.5,458.5 217.5,450.5 218.9,440 219.2,437.6 219.6,440" fill="none" stroke="#000" stroke-width="1.7" stroke-linejoin="round"/>
<line x1="49.1" y1="457.2" x2="49.1" y2="460.6" stroke="#b01030" stroke-width="1.2"/>
<line x1="49.1" y1="460.4" x2="49.1" y2="463.6" stroke="#000" stroke-width="1.2"/>
<line x1="55.65" y1="457.2" x2="55.65" y2="460.6" stroke="#b01030" stroke-width="1.2"/>
<line x1="55.65" y1="460.4" x2="55.65" y2="463.6" stroke="#000" stroke-width="1.2"/>
<line x1="62.2" y1="457.2" x2="62.2" y2="460.6" stroke="#b01030" stroke-width="1.2"/>
<line x1="62.2" y1="460.4" x2="62.2" y2="463.6" stroke="#000" stroke-width="1.2"/>
<line x1="68.75" y1="457.2" x2="68.75" y2="460.6" stroke="#b01030" stroke-width="1.2"/>
<line x1="68.75" y1="460.4" x2="68.75" y2="463.6" stroke="#000" stroke-width="1.2"/>
<line x1="75.3" y1="457.2" x2="75.3" y2="460.6" stroke="#b01030" stroke-width="1.2"/>
<line x1="75.3" y1="460.4" x2="75.3" y2="463.6" stroke="#000" stroke-width="1.2"/>
<line x1="81.85" y1="457.2" x2="81.85" y2="460.6" stroke="#b01030" stroke-width="1.2"/>
<line x1="81.85" y1="460.4" x2="81.85" y2="463.6" stroke="#000" stroke-width="1.2"/>
<line x1="88.4" y1="457.2" x2="88.4" y2="460.6" stroke="#b01030" stroke-width="1.2"/>
<line x1="88.4" y1="460.4" x2="88.4" y2="463.6" stroke="#000" stroke-width="1.2"/>
<line x1="94.95" y1="457.2" x2="94.95" y2="460.6" stroke="#b01030" stroke-width="1.2"/>
<line x1="94.95" y1="460.4" x2="94.95" y2="463.6" stroke="#000" stroke-width="1.2"/>
<line x1="101.5" y1="457.2" x2="101.5" y2="460.6" stroke="#b01030" stroke-width="1.2"/>
<line x1="101.5" y1="460.4" x2="101.5" y2="463.6" stroke="#000" stroke-width="1.2"/>
<line x1="108.05" y1="457.2" x2="108.05" y2="460.6" stroke="#b01030" stroke-width="1.2"/>
<line x1="108.05" y1="460.4" x2="108.05" y2="463.6" stroke="#000" stroke-width="1.2"/>
<line x1="114.6" y1="457.2" x2="114.6" y2="460.6" stroke="#b01030" stroke-width="1.2"/>
<line x1="114.6" y1="460.4" x2="114.6" y2="463.6" stroke="#000" stroke-width="1.2"/>
<line x1="121.15" y1="457.2" x2="121.15" y2="460.6" stroke="#b01030" stroke-width="1.2"/>
<line x1="121.15" y1="460.4" x2="121.15" y2="463.6" stroke="#000" stroke-width="1.2"/>
<line x1="127.7" y1="457.2" x2="127.7" y2="460.6" stroke="#b01030" stroke-width="1.2"/>
<line x1="127.7" y1="460.4" x2="127.7" y2="463.6" stroke="#000" stroke-width="1.2"/>
<line x1="134.25" y1="457.2" x2="134.25" y2="460.6" stroke="#b01030" stroke-width="1.2"/>
<line x1="134.25" y1="460.4" x2="134.25" y2="463.6" stroke="#000" stroke-width="1.2"/>
<line x1="140.8" y1="457.2" x2="140.8" y2="460.6" stroke="#b01030" stroke-width="1.2"/>
<line x1="140.8" y1="460.4" x2="140.8" y2="463.6" stroke="#000" stroke-width="1.2"/>
<line x1="147.35" y1="457.2" x2="147.35" y2="460.6" stroke="#b01030" stroke-width="1.2"/>
<line x1="147.35" y1="460.4" x2="147.35" y2="463.6" stroke="#000" stroke-width="1.2"/>
<line x1="153.9" y1="457.2" x2="153.9" y2="460.6" stroke="#b01030" stroke-width="1.2"/>
<line x1="153.9" y1="460.4" x2="153.9" y2="463.6" stroke="#000" stroke-width="1.2"/>
<line x1="160.45" y1="457.2" x2="160.45" y2="460.6" stroke="#b01030" stroke-width="1.2"/>
<line x1="160.45" y1="460.4" x2="160.45" y2="463.6" stroke="#000" stroke-width="1.2"/>
<line x1="167" y1="457.2" x2="167" y2="460.6" stroke="#b01030" stroke-width="1.2"/>
<line x1="167" y1="460.4" x2="167" y2="463.6" stroke="#000" stroke-width="1.2"/>
<line x1="173.55" y1="457.2" x2="173.55" y2="460.6" stroke="#b01030" stroke-width="1.2"/>
<line x1="173.55" y1="460.4" x2="173.55" y2="463.6" stroke="#000" stroke-width="1.2"/>
<line x1="180.1" y1="457.2" x2="180.1" y2="460.6" stroke="#b01030" stroke-width="1.2"/>
<line x1="180.1" y1="460.4" x2="180.1" y2="463.6" stroke="#000" stroke-width="1.2"/>
<line x1="186.65" y1="457.2" x2="186.65" y2="460.6" stroke="#b01030" stroke-width="1.2"/>
<line x1="186.65" y1="460.4" x2="186.65" y2="463.6" stroke="#000" stroke-width="1.2"/>
<line x1="193.2" y1="457.2" x2="193.2" y2="460.6" stroke="#b01030" stroke-width="1.2"/>
<line x1="193.2" y1="460.4" x2="193.2" y2="463.6" stroke="#000" stroke-width="1.2"/>
<line x1="199.75" y1="457.2" x2="199.75" y2="460.6" stroke="#b01030" stroke-width="1.2"/>
<line x1="199.75" y1="460.4" x2="199.75" y2="463.6" stroke="#000" stroke-width="1.2"/>
<line x1="206.3" y1="457.2" x2="206.3" y2="460.6" stroke="#b01030" stroke-width="1.2"/>
<line x1="206.3" y1="460.4" x2="206.3" y2="463.6" stroke="#000" stroke-width="1.2"/>
<line x1="212.85" y1="457.2" x2="212.85" y2="460.6" stroke="#b01030" stroke-width="1.2"/>
<line x1="212.85" y1="460.4" x2="212.85" y2="463.6" stroke="#000" stroke-width="1.2"/>
<line x1="219.3" y1="438" x2="219.3" y2="490" stroke="#000" stroke-width="1.9"/>
<polyline points="219.8,447.5 221.7,443.5 224.5,439 226.8,435 227.5,431" fill="none" stroke="#2a2aa0" stroke-width="2.4" stroke-linejoin="round"/>
<polyline points="219.8,448.5 221.7,444 224.5,439.5 226.8,435.5 227.6,431 227.6,411.7 235.5,411.7 236.3,414 236.3,465.2" fill="none" stroke="#000" stroke-width="2.1" stroke-linejoin="round"/>
<line x1="36" y1="404.3" x2="240.3" y2="404.3" stroke="#000" stroke-width="1.3"/>
<line x1="240.3" y1="404.3" x2="240.3" y2="568.9" stroke="#000" stroke-width="1.3"/>
<line x1="34.7" y1="568.9" x2="240.95" y2="568.9" stroke="#000" stroke-width="2.4"/>
<line x1="36" y1="403.65" x2="36" y2="570.1" stroke="#000" stroke-width="2.6"/>
<line x1="37.2" y1="560.87" x2="38.8" y2="560.87" stroke="#000" stroke-width="1.1"/>
<line x1="37.2" y1="553.43" x2="38.8" y2="553.43" stroke="#000" stroke-width="1.1"/>
<line x1="37.2" y1="546" x2="38.8" y2="546" stroke="#000" stroke-width="1.1"/>
<line x1="37.2" y1="538.57" x2="38.8" y2="538.57" stroke="#000" stroke-width="1.1"/>
<line x1="37.2" y1="531.13" x2="38.8" y2="531.13" stroke="#000" stroke-width="1.1"/>
<line x1="37.2" y1="523.7" x2="38.8" y2="523.7" stroke="#000" stroke-width="1.1"/>
<line x1="37.2" y1="516.27" x2="38.8" y2="516.27" stroke="#000" stroke-width="1.1"/>
<line x1="37.2" y1="508.84" x2="38.8" y2="508.84" stroke="#000" stroke-width="1.1"/>
<line x1="37.2" y1="501.4" x2="38.8" y2="501.4" stroke="#000" stroke-width="1.1"/>
<line x1="37.2" y1="493.97" x2="38.8" y2="493.97" stroke="#000" stroke-width="1.1"/>
<line x1="37.2" y1="486.54" x2="38.8" y2="486.54" stroke="#000" stroke-width="1.1"/>
<line x1="37.2" y1="479.1" x2="38.8" y2="479.1" stroke="#000" stroke-width="1.1"/>
<line x1="37.2" y1="471.67" x2="38.8" y2="471.67" stroke="#000" stroke-width="1.1"/>
<line x1="37.2" y1="464.24" x2="38.8" y2="464.24" stroke="#000" stroke-width="1.1"/>
<line x1="37.2" y1="456.8" x2="38.8" y2="456.8" stroke="#000" stroke-width="1.1"/>
<line x1="37.2" y1="449.37" x2="38.8" y2="449.37" stroke="#000" stroke-width="1.1"/>
<line x1="37.2" y1="441.94" x2="38.8" y2="441.94" stroke="#000" stroke-width="1.1"/>
<line x1="37.2" y1="434.51" x2="38.8" y2="434.51" stroke="#000" stroke-width="1.1"/>
<line x1="37.2" y1="427.07" x2="38.8" y2="427.07" stroke="#000" stroke-width="1.1"/>
<line x1="37.2" y1="419.64" x2="38.8" y2="419.64" stroke="#000" stroke-width="1.1"/>
<line x1="37.2" y1="412.21" x2="38.8" y2="412.21" stroke="#000" stroke-width="1.1"/>
<line x1="37.2" y1="404.77" x2="38.8" y2="404.77" stroke="#000" stroke-width="1.1"/>
<line x1="52.58" y1="567.9" x2="52.58" y2="565.9" stroke="#000" stroke-width="1.1"/>
<line x1="70.06" y1="567.9" x2="70.06" y2="565.9" stroke="#000" stroke-width="1.1"/>
<line x1="87.54" y1="567.9" x2="87.54" y2="565.9" stroke="#000" stroke-width="1.1"/>
<line x1="105.02" y1="567.9" x2="105.02" y2="565.9" stroke="#000" stroke-width="1.1"/>
<line x1="122.5" y1="567.9" x2="122.5" y2="565.9" stroke="#000" stroke-width="1.1"/>
<line x1="139.98" y1="567.9" x2="139.98" y2="565.9" stroke="#000" stroke-width="1.1"/>
<line x1="157.46" y1="567.9" x2="157.46" y2="565.9" stroke="#000" stroke-width="1.1"/>
<line x1="174.94" y1="567.9" x2="174.94" y2="565.9" stroke="#000" stroke-width="1.1"/>
<line x1="192.42" y1="567.9" x2="192.42" y2="565.9" stroke="#000" stroke-width="1.1"/>
<line x1="209.9" y1="567.9" x2="209.9" y2="565.9" stroke="#000" stroke-width="1.1"/>
<line x1="227.38" y1="567.9" x2="227.38" y2="565.9" stroke="#000" stroke-width="1.1"/>
<text x="32.3" y="415.21" font-family="'Liberation Serif', 'Times New Roman', serif" font-size="9.4" font-weight="bold" text-anchor="end">10<tspan font-size="5.6" dy="-3.8">22</tspan></text>
<text x="32.3" y="437.51" font-family="'Liberation Serif', 'Times New Roman', serif" font-size="9.4" font-weight="bold" text-anchor="end">10<tspan font-size="5.6" dy="-3.8">19</tspan></text>
<text x="32.3" y="459.8" font-family="'Liberation Serif', 'Times New Roman', serif" font-size="9.4" font-weight="bold" text-anchor="end">10<tspan font-size="5.6" dy="-3.8">16</tspan></text>
<text x="32.3" y="482.1" font-family="'Liberation Serif', 'Times New Roman', serif" font-size="9.4" font-weight="bold" text-anchor="end">10<tspan font-size="5.6" dy="-3.8">13</tspan></text>
<text x="32.3" y="504.4" font-family="'Liberation Serif', 'Times New Roman', serif" font-size="9.4" font-weight="bold" text-anchor="end">10<tspan font-size="5.6" dy="-3.8">10</tspan></text>
<text x="32.3" y="526.7" font-family="'Liberation Serif', 'Times New Roman', serif" font-size="9.4" font-weight="bold" text-anchor="end">10<tspan font-size="5.6" dy="-3.8">7</tspan></text>
<text x="32.3" y="549" font-family="'Liberation Serif', 'Times New Roman', serif" font-size="9.4" font-weight="bold" text-anchor="end">10<tspan font-size="5.6" dy="-3.8">4</tspan></text>
<text x="32.3" y="571.3" font-family="'Liberation Serif', 'Times New Roman', serif" font-size="9.4" font-weight="bold" text-anchor="end">10<tspan font-size="5.6" dy="-3.8">1</tspan></text>
<text x="34.8" y="580.6" font-family="'Liberation Serif', 'Times New Roman', serif" font-size="8.6" font-weight="bold" text-anchor="middle" fill="#000">0.0</text>
<text x="69.76" y="580.6" font-family="'Liberation Serif', 'Times New Roman', serif" font-size="8.6" font-weight="bold" text-anchor="middle" fill="#000">0.2</text>
<text x="104.72" y="580.6" font-family="'Liberation Serif', 'Times New Roman', serif" font-size="8.6" font-weight="bold" text-anchor="middle" fill="#000">0.4</text>
<text x="139.68" y="580.6" font-family="'Liberation Serif', 'Times New Roman', serif" font-size="8.6" font-weight="bold" text-anchor="middle" fill="#000">0.6</text>
<text x="174.64" y="580.6" font-family="'Liberation Serif', 'Times New Roman', serif" font-size="8.6" font-weight="bold" text-anchor="middle" fill="#000">0.8</text>
<text x="209.6" y="580.6" font-family="'Liberation Serif', 'Times New Roman', serif" font-size="8.6" font-weight="bold" text-anchor="middle" fill="#000">1.0</text>
<text x="130" y="595.4" font-family="'Liberation Serif', 'Times New Roman', serif" font-size="10.95" font-weight="bold" text-anchor="middle" fill="#000">Distance (μm)</text>
<text x="12.3" y="499" font-family="'Liberation Serif', 'Times New Roman', serif" font-size="11.2" font-weight="bold" text-anchor="middle" transform="rotate(-90 12.3 499)">Hole concentration (cm<tspan font-size="7" dy="-4">-3</tspan><tspan dy="4">)</tspan></text>
<rect x="84.1" y="479.1" width="106.3" height="62.3" fill="#fff" stroke="#3a3ad8" stroke-width="1.3"/>
<text x="89.4" y="491.3" font-family="'Liberation Serif', 'Times New Roman', serif" font-size="8.4" font-weight="bold" text-anchor="start" fill="#000">Thickness of CIGS absober</text>
<line x1="107.5" y1="500.8" x2="126.7" y2="500.8" stroke="#ff1010" stroke-width="1.6"/>
<circle cx="117.1" cy="500.8" r="1.4" fill="#ff1010"/>
<text x="129.6" y="504" font-family="'Liberation Sans', Arial, sans-serif" font-size="8.2" font-weight="bold" text-anchor="start" fill="#000">0.5μm</text>
<line x1="107.5" y1="512.3" x2="126.7" y2="512.3" stroke="#1a1ae0" stroke-width="1.6"/>
<circle cx="117.1" cy="512.3" r="1.4" fill="#1a1ae0"/>
<text x="129.6" y="515.5" font-family="'Liberation Sans', Arial, sans-serif" font-size="8.2" font-weight="bold" text-anchor="start" fill="#000">1μm</text>
<line x1="107.5" y1="523.8" x2="126.7" y2="523.8" stroke="#8a1a9a" stroke-width="1.6"/>
<circle cx="117.1" cy="523.8" r="1.4" fill="#8a1a9a"/>
<text x="129.6" y="527" font-family="'Liberation Sans', Arial, sans-serif" font-size="8.2" font-weight="bold" text-anchor="start" fill="#000">1.5μm</text>
<line x1="107.5" y1="535.4" x2="126.7" y2="535.4" stroke="#000" stroke-width="1.6"/>
<circle cx="117.1" cy="535.4" r="1.4" fill="#000"/>
<text x="129.6" y="538.6" font-family="'Liberation Sans', Arial, sans-serif" font-size="8.2" font-weight="bold" text-anchor="start" fill="#000">2μm</text>
<text x="328" y="399.6" font-family="'Liberation Serif', 'Times New Roman', serif" font-size="13.4" font-weight="bold" text-anchor="start" fill="#000">(d) Electron concentration</text>
<polyline points="318.6,437.8 325.5,437.8 326.5,435.5 327.3,437.8" fill="none" stroke="#000" stroke-width="3" stroke-linejoin="round"/>
<line x1="327" y1="438" x2="327" y2="453.6" stroke="#000" stroke-width="1"/>
<polyline points="327.9,454.6 327.9,449 328.7,446.5 331,446.2 491,446.2 493.5,447.5 495.5,452 497,460 497.5,468.8" fill="none" stroke="#000" stroke-width="1.6" stroke-linejoin="round"/>
<polyline points="327.9,454.6 327.9,449" fill="none" stroke="#000" stroke-width="3.2" stroke-linejoin="round"/>
<circle cx="331.7" cy="446.2" r="1.8" fill="#000"/>
<circle cx="338.07" cy="446.2" r="1.8" fill="#000"/>
<circle cx="344.44" cy="446.2" r="1.8" fill="#000"/>
<circle cx="350.81" cy="446.2" r="1.8" fill="#000"/>
<circle cx="357.18" cy="446.2" r="1.8" fill="#000"/>
<circle cx="363.55" cy="446.2" r="1.8" fill="#000"/>
<circle cx="369.92" cy="446.2" r="1.8" fill="#000"/>
<circle cx="376.29" cy="446.2" r="1.8" fill="#000"/>
<circle cx="382.66" cy="446.2" r="1.8" fill="#000"/>
<circle cx="389.03" cy="446.2" r="1.8" fill="#000"/>
<circle cx="395.4" cy="446.2" r="1.8" fill="#000"/>
<circle cx="401.77" cy="446.2" r="1.8" fill="#000"/>
<circle cx="408.14" cy="446.2" r="1.8" fill="#000"/>
<circle cx="414.51" cy="446.2" r="1.8" fill="#000"/>
<circle cx="420.88" cy="446.2" r="1.8" fill="#000"/>
<circle cx="427.25" cy="446.2" r="1.8" fill="#000"/>
<circle cx="433.62" cy="446.2" r="1.8" fill="#000"/>
<circle cx="439.99" cy="446.2" r="1.8" fill="#000"/>
<circle cx="446.36" cy="446.2" r="1.8" fill="#000"/>
<circle cx="452.73" cy="446.2" r="1.8" fill="#000"/>
<circle cx="459.1" cy="446.2" r="1.8" fill="#000"/>
<circle cx="465.47" cy="446.2" r="1.8" fill="#000"/>
<circle cx="471.84" cy="446.2" r="1.8" fill="#000"/>
<circle cx="478.21" cy="446.2" r="1.8" fill="#000"/>
<circle cx="484.58" cy="446.2" r="1.8" fill="#000"/>
<circle cx="492" cy="447" r="1.8" fill="#000"/>
<circle cx="492.7" cy="449.7" r="1.8" fill="#000"/>
<circle cx="493.4" cy="452.4" r="1.8" fill="#000"/>
<circle cx="494.1" cy="455.1" r="1.8" fill="#000"/>
<circle cx="494.8" cy="457.8" r="1.8" fill="#000"/>
<circle cx="495.5" cy="460.5" r="1.8" fill="#000"/>
<circle cx="496.2" cy="463.2" r="1.8" fill="#000"/>
<circle cx="496.9" cy="465.9" r="1.8" fill="#000"/>
<circle cx="497.6" cy="468.6" r="1.8" fill="#000"/>
<line x1="497.2" y1="468" x2="497.2" y2="516.5" stroke="#000" stroke-width="0.9"/>
<polygon points="494.8,516.5 495.3,513.5 497.5,510.5 499.8,507.2 501.5,505.8 503.2,506.8 505.5,510 508.5,515 511.5,520 514.5,525 516.8,528 516.8,543 513.5,543.5 511,538 508.8,532 507,528.5 506,535 503.2,535.2 503,528 502.3,521 500.8,514.5 498.8,516 496.5,518.8" fill="#14061a" stroke="#14061a" stroke-width="0.6" stroke-linejoin="round"/>
<polyline points="503.5,512 506,519 509,527 512,535 514.5,541" fill="none" stroke="#5a1a6a" stroke-width="1.6" stroke-linejoin="round"/>
<line x1="318.6" y1="408.75" x2="518" y2="408.75" stroke="#000" stroke-width="1.9"/>
<line x1="518" y1="408.75" x2="518" y2="570.2" stroke="#000" stroke-width="1.9"/>
<line x1="317.5" y1="570.2" x2="518.95" y2="570.2" stroke="#000" stroke-width="2.2"/>
<line x1="318.6" y1="407.8" x2="318.6" y2="571.3" stroke="#000" stroke-width="2.2"/>
<line x1="319.6" y1="562.21" x2="321.2" y2="562.21" stroke="#000" stroke-width="1.1"/>
<line x1="319.6" y1="554.92" x2="321.2" y2="554.92" stroke="#000" stroke-width="1.1"/>
<line x1="319.6" y1="547.63" x2="321.2" y2="547.63" stroke="#000" stroke-width="1.1"/>
<line x1="319.6" y1="540.34" x2="321.2" y2="540.34" stroke="#000" stroke-width="1.1"/>
<line x1="319.6" y1="533.05" x2="321.2" y2="533.05" stroke="#000" stroke-width="1.1"/>
<line x1="319.6" y1="525.76" x2="321.2" y2="525.76" stroke="#000" stroke-width="1.1"/>
<line x1="319.6" y1="518.47" x2="321.2" y2="518.47" stroke="#000" stroke-width="1.1"/>
<line x1="319.6" y1="511.18" x2="321.2" y2="511.18" stroke="#000" stroke-width="1.1"/>
<line x1="319.6" y1="503.89" x2="321.2" y2="503.89" stroke="#000" stroke-width="1.1"/>
<line x1="319.6" y1="496.6" x2="321.2" y2="496.6" stroke="#000" stroke-width="1.1"/>
<line x1="319.6" y1="489.31" x2="321.2" y2="489.31" stroke="#000" stroke-width="1.1"/>
<line x1="319.6" y1="482.02" x2="321.2" y2="482.02" stroke="#000" stroke-width="1.1"/>
<line x1="319.6" y1="474.73" x2="321.2" y2="474.73" stroke="#000" stroke-width="1.1"/>
<line x1="319.6" y1="467.44" x2="321.2" y2="467.44" stroke="#000" stroke-width="1.1"/>
<line x1="319.6" y1="460.15" x2="321.2" y2="460.15" stroke="#000" stroke-width="1.1"/>
<line x1="319.6" y1="452.86" x2="321.2" y2="452.86" stroke="#000" stroke-width="1.1"/>
<line x1="319.6" y1="445.57" x2="321.2" y2="445.57" stroke="#000" stroke-width="1.1"/>
<line x1="319.6" y1="438.28" x2="321.2" y2="438.28" stroke="#000" stroke-width="1.1"/>
<line x1="319.6" y1="430.99" x2="321.2" y2="430.99" stroke="#000" stroke-width="1.1"/>
<line x1="319.6" y1="423.7" x2="321.2" y2="423.7" stroke="#000" stroke-width="1.1"/>
<line x1="319.6" y1="416.41" x2="321.2" y2="416.41" stroke="#000" stroke-width="1.1"/>
<line x1="335.8" y1="569.2" x2="335.8" y2="567.2" stroke="#000" stroke-width="1.1"/>
<line x1="352.8" y1="569.2" x2="352.8" y2="567.2" stroke="#000" stroke-width="1.1"/>
<line x1="369.8" y1="569.2" x2="369.8" y2="567.2" stroke="#000" stroke-width="1.1"/>
<line x1="386.8" y1="569.2" x2="386.8" y2="567.2" stroke="#000" stroke-width="1.1"/>
<line x1="403.8" y1="569.2" x2="403.8" y2="567.2" stroke="#000" stroke-width="1.1"/>
<line x1="420.8" y1="569.2" x2="420.8" y2="567.2" stroke="#000" stroke-width="1.1"/>
<line x1="437.8" y1="569.2" x2="437.8" y2="567.2" stroke="#000" stroke-width="1.1"/>
<line x1="454.8" y1="569.2" x2="454.8" y2="567.2" stroke="#000" stroke-width="1.1"/>
<line x1="471.8" y1="569.2" x2="471.8" y2="567.2" stroke="#000" stroke-width="1.1"/>
<line x1="488.8" y1="569.2" x2="488.8" y2="567.2" stroke="#000" stroke-width="1.1"/>
<line x1="505.8" y1="569.2" x2="505.8" y2="567.2" stroke="#000" stroke-width="1.1"/>
<text x="315" y="419.41" font-family="'Liberation Serif', 'Times New Roman', serif" font-size="9" font-weight="bold" text-anchor="end">10<tspan font-size="5.4" dy="-3.8">22</tspan></text>
<text x="315" y="441.28" font-family="'Liberation Serif', 'Times New Roman', serif" font-size="9" font-weight="bold" text-anchor="end">10<tspan font-size="5.4" dy="-3.8">19</tspan></text>
<text x="315" y="463.15" font-family="'Liberation Serif', 'Times New Roman', serif" font-size="9" font-weight="bold" text-anchor="end">10<tspan font-size="5.4" dy="-3.8">16</tspan></text>
<text x="315" y="485.02" font-family="'Liberation Serif', 'Times New Roman', serif" font-size="9" font-weight="bold" text-anchor="end">10<tspan font-size="5.4" dy="-3.8">13</tspan></text>
<text x="315" y="506.89" font-family="'Liberation Serif', 'Times New Roman', serif" font-size="9" font-weight="bold" text-anchor="end">10<tspan font-size="5.4" dy="-3.8">10</tspan></text>
<text x="315" y="528.76" font-family="'Liberation Serif', 'Times New Roman', serif" font-size="9" font-weight="bold" text-anchor="end">10<tspan font-size="5.4" dy="-3.8">7</tspan></text>
<text x="315" y="550.63" font-family="'Liberation Serif', 'Times New Roman', serif" font-size="9" font-weight="bold" text-anchor="end">10<tspan font-size="5.4" dy="-3.8">4</tspan></text>
<text x="315" y="572.5" font-family="'Liberation Serif', 'Times New Roman', serif" font-size="9" font-weight="bold" text-anchor="end">10<tspan font-size="5.4" dy="-3.8">1</tspan></text>
<text x="318.3" y="580.2" font-family="'Liberation Serif', 'Times New Roman', serif" font-size="7.4" font-weight="bold" text-anchor="middle" fill="#000">0.0</text>
<text x="352.3" y="580.2" font-family="'Liberation Serif', 'Times New Roman', serif" font-size="7.4" font-weight="bold" text-anchor="middle" fill="#000">0.2</text>
<text x="386.3" y="580.2" font-family="'Liberation Serif', 'Times New Roman', serif" font-size="7.4" font-weight="bold" text-anchor="middle" fill="#000">0.4</text>
<text x="420.3" y="580.2" font-family="'Liberation Serif', 'Times New Roman', serif" font-size="7.4" font-weight="bold" text-anchor="middle" fill="#000">0.6</text>
<text x="454.3" y="580.2" font-family="'Liberation Serif', 'Times New Roman', serif" font-size="7.4" font-weight="bold" text-anchor="middle" fill="#000">0.8</text>
<text x="488.3" y="580.2" font-family="'Liberation Serif', 'Times New Roman', serif" font-size="7.4" font-weight="bold" text-anchor="middle" fill="#000">1.0</text>
<text x="410" y="595.2" font-family="'Liberation Serif', 'Times New Roman', serif" font-size="10.6" font-weight="bold" text-anchor="middle" fill="#000">Distance (μm)</text>
<text x="293.4" y="502.5" font-family="'Liberation Serif', 'Times New Roman', serif" font-size="11.1" font-weight="bold" text-anchor="middle" transform="rotate(-90 293.4 502.5)">Electron concentration (cm<tspan font-size="7" dy="-4">-3</tspan><tspan dy="4">)</tspan></text>
<rect x="365.1" y="481.7" width="104.1" height="61.1" fill="#fff" stroke="#3a3ad8" stroke-width="1.3"/>
<text x="370.6" y="493.6" font-family="'Liberation Serif', 'Times New Roman', serif" font-size="8.2" font-weight="bold" text-anchor="start" fill="#000">Thickness of CIGS absober</text>
<line x1="388.7" y1="502.4" x2="406.7" y2="502.4" stroke="#ff1010" stroke-width="1.6"/>
<polygon points="397.7,500.2 399.9,502.4 397.7,504.6 395.5,502.4" fill="#ff1010"/>
<text x="410.2" y="505.6" font-family="'Liberation Sans', Arial, sans-serif" font-size="8.2" font-weight="bold" text-anchor="start" fill="#000">0.5μm</text>
<line x1="388.7" y1="513.9" x2="406.7" y2="513.9" stroke="#1a1ae0" stroke-width="1.6"/>
<polygon points="397.7,511.5 398.33,513.03 399.98,513.16 398.73,514.23 399.11,515.84 397.7,514.98 396.29,515.84 396.67,514.23 395.42,513.16 397.07,513.03" fill="#1a1ae0"/>
<text x="410.2" y="517.1" font-family="'Liberation Sans', Arial, sans-serif" font-size="8.2" font-weight="bold" text-anchor="start" fill="#000">1μm</text>
<line x1="388.7" y1="526" x2="406.7" y2="526" stroke="#8a1a9a" stroke-width="1.6"/>
<polygon points="397.7,523.8 399.9,527.6 395.5,527.6" fill="#8a1a9a"/>
<text x="410.2" y="529.2" font-family="'Liberation Sans', Arial, sans-serif" font-size="8.2" font-weight="bold" text-anchor="start" fill="#000">1.5μm</text>
<line x1="388.7" y1="538" x2="406.7" y2="538" stroke="#000" stroke-width="1.6"/>
<circle cx="397.7" cy="538" r="1.9" fill="#000"/>
<text x="410.2" y="541.2" font-family="'Liberation Sans', Arial, sans-serif" font-size="8.2" font-weight="bold" text-anchor="start" fill="#000">2μm</text>
<text x="63.7" y="619.3" font-family="'Liberation Serif', 'Times New Roman', serif" font-size="13.65" font-weight="bold" text-anchor="start" fill="#000">(e)Total generation</text>
<polyline points="39.4,775 40.3,768 42,763 44.5,760 46.3,759.3" fill="none" stroke="#ff1010" stroke-width="2.8" stroke-linejoin="round"/>
<polyline points="39.4,791 40.3,784 42,779.5 44.5,777 46.3,776.8 47.6,779.5" fill="none" stroke="#1a1060" stroke-width="2.8" stroke-linejoin="round"/>
<line x1="47" y1="781" x2="47" y2="672" stroke="#000" stroke-width="1"/>
<polyline points="46.3,663.5 47,668 48.6,672.3 208.7,672.3 210.3,664 211.4,663.5 212.3,672" fill="none" stroke="#ff1010" stroke-width="2.2" stroke-linejoin="round"/>
<polyline points="46.5,668 47.3,673 48.6,676.3 208.7,676.3 210.8,667 212,670 212.6,683" fill="none" stroke="#000" stroke-width="2.2" stroke-linejoin="round"/>
<polygon points="52.7,669.8 55.2,672.3 52.7,674.8 50.2,672.3" fill="#ff1010"/>
<polygon points="52.7,673.8 55.2,676.3 52.7,678.8 50.2,676.3" fill="#000"/>
<polygon points="58.85,669.8 61.35,672.3 58.85,674.8 56.35,672.3" fill="#ff1010"/>
<polygon points="58.85,673.8 61.35,676.3 58.85,678.8 56.35,676.3" fill="#000"/>
<polygon points="65,669.8 67.5,672.3 65,674.8 62.5,672.3" fill="#ff1010"/>
<polygon points="65,673.8 67.5,676.3 65,678.8 62.5,676.3" fill="#000"/>
<polygon points="71.15,669.8 73.65,672.3 71.15,674.8 68.65,672.3" fill="#ff1010"/>
<polygon points="71.15,673.8 73.65,676.3 71.15,678.8 68.65,676.3" fill="#000"/>
<polygon points="77.3,669.8 79.8,672.3 77.3,674.8 74.8,672.3" fill="#ff1010"/>
<polygon points="77.3,673.8 79.8,676.3 77.3,678.8 74.8,676.3" fill="#000"/>
<polygon points="83.45,669.8 85.95,672.3 83.45,674.8 80.95,672.3" fill="#ff1010"/>
<polygon points="83.45,673.8 85.95,676.3 83.45,678.8 80.95,676.3" fill="#000"/>
<polygon points="89.6,669.8 92.1,672.3 89.6,674.8 87.1,672.3" fill="#ff1010"/>
<polygon points="89.6,673.8 92.1,676.3 89.6,678.8 87.1,676.3" fill="#000"/>
<polygon points="95.75,669.8 98.25,672.3 95.75,674.8 93.25,672.3" fill="#ff1010"/>
<polygon points="95.75,673.8 98.25,676.3 95.75,678.8 93.25,676.3" fill="#000"/>
<polygon points="101.9,669.8 104.4,672.3 101.9,674.8 99.4,672.3" fill="#ff1010"/>
<polygon points="101.9,673.8 104.4,676.3 101.9,678.8 99.4,676.3" fill="#000"/>
<polygon points="108.05,669.8 110.55,672.3 108.05,674.8 105.55,672.3" fill="#ff1010"/>
<polygon points="108.05,673.8 110.55,676.3 108.05,678.8 105.55,676.3" fill="#000"/>
<polygon points="114.2,669.8 116.7,672.3 114.2,674.8 111.7,672.3" fill="#ff1010"/>
<polygon points="114.2,673.8 116.7,676.3 114.2,678.8 111.7,676.3" fill="#000"/>
<polygon points="120.35,669.8 122.85,672.3 120.35,674.8 117.85,672.3" fill="#ff1010"/>
<polygon points="120.35,673.8 122.85,676.3 120.35,678.8 117.85,676.3" fill="#000"/>
<polygon points="126.5,669.8 129,672.3 126.5,674.8 124,672.3" fill="#ff1010"/>
<polygon points="126.5,673.8 129,676.3 126.5,678.8 124,676.3" fill="#000"/>
<polygon points="132.65,669.8 135.15,672.3 132.65,674.8 130.15,672.3" fill="#ff1010"/>
<polygon points="132.65,673.8 135.15,676.3 132.65,678.8 130.15,676.3" fill="#000"/>
<polygon points="138.8,669.8 141.3,672.3 138.8,674.8 136.3,672.3" fill="#ff1010"/>
<polygon points="138.8,673.8 141.3,676.3 138.8,678.8 136.3,676.3" fill="#000"/>
<polygon points="144.95,669.8 147.45,672.3 144.95,674.8 142.45,672.3" fill="#ff1010"/>
<polygon points="144.95,673.8 147.45,676.3 144.95,678.8 142.45,676.3" fill="#000"/>
<polygon points="151.1,669.8 153.6,672.3 151.1,674.8 148.6,672.3" fill="#ff1010"/>
<polygon points="151.1,673.8 153.6,676.3 151.1,678.8 148.6,676.3" fill="#000"/>
<polygon points="157.25,669.8 159.75,672.3 157.25,674.8 154.75,672.3" fill="#ff1010"/>
<polygon points="157.25,673.8 159.75,676.3 157.25,678.8 154.75,676.3" fill="#000"/>
<polygon points="163.4,669.8 165.9,672.3 163.4,674.8 160.9,672.3" fill="#ff1010"/>
<polygon points="163.4,673.8 165.9,676.3 163.4,678.8 160.9,676.3" fill="#000"/>
<polygon points="169.55,669.8 172.05,672.3 169.55,674.8 167.05,672.3" fill="#ff1010"/>
<polygon points="169.55,673.8 172.05,676.3 169.55,678.8 167.05,676.3" fill="#000"/>
<polygon points="175.7,669.8 178.2,672.3 175.7,674.8 173.2,672.3" fill="#ff1010"/>
<polygon points="175.7,673.8 178.2,676.3 175.7,678.8 173.2,676.3" fill="#000"/>
<polygon points="181.85,669.8 184.35,672.3 181.85,674.8 179.35,672.3" fill="#ff1010"/>
<polygon points="181.85,673.8 184.35,676.3 181.85,678.8 179.35,676.3" fill="#000"/>
<polygon points="188,669.8 190.5,672.3 188,674.8 185.5,672.3" fill="#ff1010"/>
<polygon points="188,673.8 190.5,676.3 188,678.8 185.5,676.3" fill="#000"/>
<polygon points="194.15,669.8 196.65,672.3 194.15,674.8 191.65,672.3" fill="#ff1010"/>
<polygon points="194.15,673.8 196.65,676.3 194.15,678.8 191.65,676.3" fill="#000"/>
<polygon points="200.3,669.8 202.8,672.3 200.3,674.8 197.8,672.3" fill="#ff1010"/>
<polygon points="200.3,673.8 202.8,676.3 200.3,678.8 197.8,676.3" fill="#000"/>
<polygon points="206.45,669.8 208.95,672.3 206.45,674.8 203.95,672.3" fill="#ff1010"/>
<polygon points="206.45,673.8 208.95,676.3 206.45,678.8 203.95,676.3" fill="#000"/>
<polygon points="45.3,676 45.4,668 46.2,664 47.5,663.4 48.4,666 48.6,672 48.3,677.5 47,678" fill="#10040c" stroke="#10040c" stroke-width="0.6" stroke-linejoin="round"/>
<polygon points="45.5,668.5 46.2,663.8 47.5,662.8 48.3,665 48.2,669 46.5,670" fill="#e8102a" stroke="#e8102a" stroke-width="0.6" stroke-linejoin="round"/>
<polygon points="208.8,677.5 209.3,670 210.2,665 211.5,663.5 212.8,666 213.3,672 213.2,679 212.6,682 211.4,680 210.5,677.5" fill="#10040c" stroke="#10040c" stroke-width="0.6" stroke-linejoin="round"/>
<polygon points="209.4,668 210.2,663.8 211.5,662.6 212.6,664.5 212.6,668 211,669" fill="#e8102a" stroke="#e8102a" stroke-width="0.6" stroke-linejoin="round"/>
<polyline points="211.5,668 212.3,676 212.6,683" fill="none" stroke="#000" stroke-width="3.4" stroke-linejoin="round"/>
<line x1="212.7" y1="683" x2="212.7" y2="695" stroke="#000" stroke-width="0.9"/>
<polyline points="212.2,709 212.6,702 214.5,697 217,695 219,697.5 220.5,702 221.1,708 221.1,718 221.1,727" fill="none" stroke="#000" stroke-width="3.4" stroke-linejoin="round"/>
<circle cx="221.1" cy="730.6" r="1.8" fill="#000"/>
<line x1="220.8" y1="731" x2="220.8" y2="740" stroke="#000" stroke-width="0.9"/>
<polyline points="220.6,757 220.6,748 221,742 222,739.5" fill="none" stroke="#000" stroke-width="3.2" stroke-linejoin="round"/>
<polygon points="221.3,738.5 223,739 226,744.5 229,752.5 231.8,759 231.8,775.5 229.5,776.5 227.2,768.5 224.8,759 222.8,751 221.3,745" fill="#14061a" stroke="#14061a" stroke-width="0.6" stroke-linejoin="round"/>
<polyline points="223.5,746 225.5,752 227.5,759 229.5,767" fill="none" stroke="#6a1a8a" stroke-width="1.6" stroke-linejoin="round"/>
<line x1="39.1" y1="637.5" x2="232.7" y2="637.5" stroke="#000" stroke-width="1.3"/>
<line x1="232.7" y1="637.5" x2="232.7" y2="793.4" stroke="#000" stroke-width="1.3"/>
<line x1="38" y1="793.4" x2="233.35" y2="793.4" stroke="#000" stroke-width="2.2"/>
<line x1="39.1" y1="636.85" x2="39.1" y2="794.5" stroke="#000" stroke-width="2.2"/>
<line x1="40.1" y1="782.35" x2="41.7" y2="782.35" stroke="#000" stroke-width="1.1"/>
<line x1="40.1" y1="772.1" x2="41.7" y2="772.1" stroke="#000" stroke-width="1.1"/>
<line x1="40.1" y1="761.85" x2="41.7" y2="761.85" stroke="#000" stroke-width="1.1"/>
<line x1="40.1" y1="751.6" x2="41.7" y2="751.6" stroke="#000" stroke-width="1.1"/>
<line x1="40.1" y1="741.35" x2="41.7" y2="741.35" stroke="#000" stroke-width="1.1"/>
<line x1="40.1" y1="731.1" x2="41.7" y2="731.1" stroke="#000" stroke-width="1.1"/>
<line x1="40.1" y1="720.85" x2="41.7" y2="720.85" stroke="#000" stroke-width="1.1"/>
<line x1="40.1" y1="710.6" x2="41.7" y2="710.6" stroke="#000" stroke-width="1.1"/>
<line x1="40.1" y1="700.35" x2="41.7" y2="700.35" stroke="#000" stroke-width="1.1"/>
<line x1="40.1" y1="690.1" x2="41.7" y2="690.1" stroke="#000" stroke-width="1.1"/>
<line x1="40.1" y1="679.85" x2="41.7" y2="679.85" stroke="#000" stroke-width="1.1"/>
<line x1="40.1" y1="669.6" x2="41.7" y2="669.6" stroke="#000" stroke-width="1.1"/>
<line x1="40.1" y1="659.35" x2="41.7" y2="659.35" stroke="#000" stroke-width="1.1"/>
<line x1="40.1" y1="649.1" x2="41.7" y2="649.1" stroke="#000" stroke-width="1.1"/>
<line x1="55.7" y1="792.4" x2="55.7" y2="790.4" stroke="#000" stroke-width="1.1"/>
<line x1="72.3" y1="792.4" x2="72.3" y2="790.4" stroke="#000" stroke-width="1.1"/>
<line x1="88.9" y1="792.4" x2="88.9" y2="790.4" stroke="#000" stroke-width="1.1"/>
<line x1="105.5" y1="792.4" x2="105.5" y2="790.4" stroke="#000" stroke-width="1.1"/>
<line x1="122.1" y1="792.4" x2="122.1" y2="790.4" stroke="#000" stroke-width="1.1"/>
<line x1="138.7" y1="792.4" x2="138.7" y2="790.4" stroke="#000" stroke-width="1.1"/>
<line x1="155.3" y1="792.4" x2="155.3" y2="790.4" stroke="#000" stroke-width="1.1"/>
<line x1="171.9" y1="792.4" x2="171.9" y2="790.4" stroke="#000" stroke-width="1.1"/>
<line x1="188.5" y1="792.4" x2="188.5" y2="790.4" stroke="#000" stroke-width="1.1"/>
<line x1="205.1" y1="792.4" x2="205.1" y2="790.4" stroke="#000" stroke-width="1.1"/>
<line x1="221.7" y1="792.4" x2="221.7" y2="790.4" stroke="#000" stroke-width="1.1"/>
<text x="35" y="641.85" font-family="'Liberation Serif', 'Times New Roman', serif" font-size="9" font-weight="bold" text-anchor="end">10<tspan font-size="5.4" dy="-3.8">25</tspan></text>
<text x="35" y="672.6" font-family="'Liberation Serif', 'Times New Roman', serif" font-size="9" font-weight="bold" text-anchor="end">10<tspan font-size="5.4" dy="-3.8">22</tspan></text>
<text x="35" y="703.35" font-family="'Liberation Serif', 'Times New Roman', serif" font-size="9" font-weight="bold" text-anchor="end">10<tspan font-size="5.4" dy="-3.8">19</tspan></text>
<text x="35" y="734.1" font-family="'Liberation Serif', 'Times New Roman', serif" font-size="9" font-weight="bold" text-anchor="end">10<tspan font-size="5.4" dy="-3.8">16</tspan></text>
<text x="35" y="764.85" font-family="'Liberation Serif', 'Times New Roman', serif" font-size="9" font-weight="bold" text-anchor="end">10<tspan font-size="5.4" dy="-3.8">13</tspan></text>
<text x="35" y="795.6" font-family="'Liberation Serif', 'Times New Roman', serif" font-size="9" font-weight="bold" text-anchor="end">10<tspan font-size="5.4" dy="-3.8">10</tspan></text>
<text x="38.3" y="803.6" font-family="'Liberation Serif', 'Times New Roman', serif" font-size="7.6" font-weight="bold" text-anchor="middle" fill="#000">0.0</text>
<text x="71.5" y="803.6" font-family="'Liberation Serif', 'Times New Roman', serif" font-size="7.6" font-weight="bold" text-anchor="middle" fill="#000">0.2</text>
<text x="104.7" y="803.6" font-family="'Liberation Serif', 'Times New Roman', serif" font-size="7.6" font-weight="bold" text-anchor="middle" fill="#000">0.4</text>
<text x="137.9" y="803.6" font-family="'Liberation Serif', 'Times New Roman', serif" font-size="7.6" font-weight="bold" text-anchor="middle" fill="#000">0.6</text>
<text x="171.1" y="803.6" font-family="'Liberation Serif', 'Times New Roman', serif" font-size="7.6" font-weight="bold" text-anchor="middle" fill="#000">0.8</text>
<text x="204.3" y="803.6" font-family="'Liberation Serif', 'Times New Roman', serif" font-size="7.6" font-weight="bold" text-anchor="middle" fill="#000">1.0</text>
<text x="128.3" y="818.2" font-family="'Liberation Serif', 'Times New Roman', serif" font-size="10.55" font-weight="bold" text-anchor="middle" fill="#000">Distance (μm)</text>
<text x="15.9" y="727.7" font-family="'Liberation Serif', 'Times New Roman', serif" font-size="10.8" font-weight="bold" text-anchor="middle" transform="rotate(-90 15.9 727.7)">Total recombination (cm<tspan font-size="7" dy="-4">-3</tspan><tspan dy="4">s</tspan><tspan font-size="7" dy="-4">-1</tspan><tspan dy="4">)</tspan></text>
<rect x="84.6" y="707.9" width="102.2" height="59.9" fill="#fff" stroke="#3a3ad8" stroke-width="1.3"/>
<text x="89.9" y="719.5" font-family="'Liberation Serif', 'Times New Roman', serif" font-size="8" font-weight="bold" text-anchor="start" fill="#000">Thickness of CIGS absober</text>
<line x1="107.5" y1="729.3" x2="126.2" y2="729.3" stroke="#ff1010" stroke-width="1.6"/>
<circle cx="116.85" cy="729.3" r="1.9" fill="#ff1010"/>
<text x="127.9" y="732.5" font-family="'Liberation Sans', Arial, sans-serif" font-size="8.2" font-weight="bold" text-anchor="start" fill="#000">0.5μm</text>
<line x1="107.5" y1="739.7" x2="126.2" y2="739.7" stroke="#1a1ae0" stroke-width="1.6"/>
<polygon points="116.85,737.5 119.05,741.3 114.65,741.3" fill="#1a1ae0"/>
<text x="127.9" y="742.9" font-family="'Liberation Sans', Arial, sans-serif" font-size="8.2" font-weight="bold" text-anchor="start" fill="#000">1μm</text>
<line x1="107.5" y1="751" x2="126.2" y2="751" stroke="#8a1a9a" stroke-width="1.6"/>
<polygon points="116.85,748.8 119.05,752.6 114.65,752.6" fill="#8a1a9a"/>
<text x="127.9" y="754.2" font-family="'Liberation Sans', Arial, sans-serif" font-size="8.2" font-weight="bold" text-anchor="start" fill="#000">1.5μm</text>
<line x1="107.5" y1="762.5" x2="126.2" y2="762.5" stroke="#000" stroke-width="1.6"/>
<circle cx="116.85" cy="762.5" r="1.9" fill="#000"/>
<text x="127.9" y="765.7" font-family="'Liberation Sans', Arial, sans-serif" font-size="8.2" font-weight="bold" text-anchor="start" fill="#000">2μm</text>
<text x="338.3" y="618.8" font-family="'Liberation Serif', 'Times New Roman', serif" font-size="13.45" font-weight="bold" text-anchor="start" fill="#000">(f)Total recombination</text>
<line x1="321" y1="700.8" x2="330.2" y2="700.8" stroke="#ff1010" stroke-width="4"/>
<line x1="321" y1="717.8" x2="331.3" y2="717.8" stroke="#000" stroke-width="3.6"/>
<line x1="328.8" y1="717.7" x2="328.8" y2="680" stroke="#000" stroke-width="1.2"/>
<polyline points="327.6,694.3 389.2,689.8 441.2,682.9 486.2,670 494.8,664.5" fill="none" stroke="#000" stroke-width="1.3" stroke-linejoin="round"/>
<polygon points="335,691.56 337.2,693.76 335,695.96 332.8,693.76" fill="#000"/>
<polygon points="341.15,691.11 343.35,693.31 341.15,695.51 338.95,693.31" fill="#000"/>
<polygon points="347.3,690.66 349.5,692.86 347.3,695.06 345.1,692.86" fill="#000"/>
<polygon points="353.45,690.21 355.65,692.41 353.45,694.61 351.25,692.41" fill="#000"/>
<polygon points="359.6,689.76 361.8,691.96 359.6,694.16 357.4,691.96" fill="#000"/>
<polygon points="365.75,689.31 367.95,691.51 365.75,693.71 363.55,691.51" fill="#000"/>
<polygon points="371.9,688.86 374.1,691.06 371.9,693.26 369.7,691.06" fill="#000"/>
<polygon points="378.05,688.41 380.25,690.61 378.05,692.81 375.85,690.61" fill="#000"/>
<polygon points="384.2,687.97 386.4,690.17 384.2,692.37 382,690.17" fill="#000"/>
<polygon points="390.35,687.45 392.55,689.65 390.35,691.85 388.15,689.65" fill="#000"/>
<polygon points="396.5,686.63 398.7,688.83 396.5,691.03 394.3,688.83" fill="#000"/>
<polygon points="402.65,685.82 404.85,688.02 402.65,690.22 400.45,688.02" fill="#000"/>
<polygon points="408.8,685 411,687.2 408.8,689.4 406.6,687.2" fill="#000"/>
<polygon points="414.95,684.18 417.15,686.38 414.95,688.58 412.75,686.38" fill="#000"/>
<polygon points="421.1,683.37 423.3,685.57 421.1,687.77 418.9,685.57" fill="#000"/>
<polygon points="427.25,682.55 429.45,684.75 427.25,686.95 425.05,684.75" fill="#000"/>
<polygon points="433.4,681.74 435.6,683.94 433.4,686.14 431.2,683.94" fill="#000"/>
<polygon points="439.55,680.92 441.75,683.12 439.55,685.32 437.35,683.12" fill="#000"/>
<polygon points="445.7,679.41 447.9,681.61 445.7,683.81 443.5,681.61" fill="#000"/>
<polygon points="451.85,677.65 454.05,679.85 451.85,682.05 449.65,679.85" fill="#000"/>
<polygon points="458,675.88 460.2,678.08 458,680.28 455.8,678.08" fill="#000"/>
<polygon points="464.15,674.12 466.35,676.32 464.15,678.52 461.95,676.32" fill="#000"/>
<polygon points="470.3,672.36 472.5,674.56 470.3,676.76 468.1,674.56" fill="#000"/>
<polygon points="476.45,670.6 478.65,672.8 476.45,675 474.25,672.8" fill="#000"/>
<polygon points="482.6,668.83 484.8,671.03 482.6,673.23 480.4,671.03" fill="#000"/>
<polygon points="488.75,666.17 490.95,668.37 488.75,670.57 486.55,668.37" fill="#000"/>
<line x1="327.8" y1="695.11" x2="338.5" y2="694.51" stroke="#000" stroke-width="3.8"/>
<polyline points="327.6,691.5 389.2,687.4 441.2,680.5 486.2,669 494.8,664.5" fill="none" stroke="#8a1a9a" stroke-width="1.3" stroke-linejoin="round"/>
<polygon points="335,688.81 337.2,691.01 335,693.21 332.8,691.01" fill="#8a1a9a"/>
<polygon points="341.15,688.4 343.35,690.6 341.15,692.8 338.95,690.6" fill="#8a1a9a"/>
<polygon points="347.3,687.99 349.5,690.19 347.3,692.39 345.1,690.19" fill="#8a1a9a"/>
<polygon points="353.45,687.58 355.65,689.78 353.45,691.98 351.25,689.78" fill="#8a1a9a"/>
<polygon points="359.6,687.17 361.8,689.37 359.6,691.57 357.4,689.37" fill="#8a1a9a"/>
<polygon points="365.75,686.76 367.95,688.96 365.75,691.16 363.55,688.96" fill="#8a1a9a"/>
<polygon points="371.9,686.35 374.1,688.55 371.9,690.75 369.7,688.55" fill="#8a1a9a"/>
<polygon points="378.05,685.94 380.25,688.14 378.05,690.34 375.85,688.14" fill="#8a1a9a"/>
<polygon points="384.2,685.53 386.4,687.73 384.2,689.93 382,687.73" fill="#8a1a9a"/>
<polygon points="390.35,685.05 392.55,687.25 390.35,689.45 388.15,687.25" fill="#8a1a9a"/>
<polygon points="396.5,684.23 398.7,686.43 396.5,688.63 394.3,686.43" fill="#8a1a9a"/>
<polygon points="402.65,683.42 404.85,685.62 402.65,687.82 400.45,685.62" fill="#8a1a9a"/>
<polygon points="408.8,682.6 411,684.8 408.8,687 406.6,684.8" fill="#8a1a9a"/>
<polygon points="414.95,681.78 417.15,683.98 414.95,686.18 412.75,683.98" fill="#8a1a9a"/>
<polygon points="421.1,680.97 423.3,683.17 421.1,685.37 418.9,683.17" fill="#8a1a9a"/>
<polygon points="427.25,680.15 429.45,682.35 427.25,684.55 425.05,682.35" fill="#8a1a9a"/>
<polygon points="433.4,679.34 435.6,681.54 433.4,683.74 431.2,681.54" fill="#8a1a9a"/>
<polygon points="439.55,678.52 441.75,680.72 439.55,682.92 437.35,680.72" fill="#8a1a9a"/>
<polygon points="445.7,677.15 447.9,679.35 445.7,681.55 443.5,679.35" fill="#8a1a9a"/>
<polygon points="451.85,675.58 454.05,677.78 451.85,679.98 449.65,677.78" fill="#8a1a9a"/>
<polygon points="458,674.01 460.2,676.21 458,678.41 455.8,676.21" fill="#8a1a9a"/>
<polygon points="464.15,672.44 466.35,674.64 464.15,676.84 461.95,674.64" fill="#8a1a9a"/>
<polygon points="470.3,670.86 472.5,673.06 470.3,675.26 468.1,673.06" fill="#8a1a9a"/>
<polygon points="476.45,669.29 478.65,671.49 476.45,673.69 474.25,671.49" fill="#8a1a9a"/>
<polygon points="482.6,667.72 484.8,669.92 482.6,672.12 480.4,669.92" fill="#8a1a9a"/>
<polygon points="488.75,665.47 490.95,667.67 488.75,669.87 486.55,667.67" fill="#8a1a9a"/>
<line x1="327.8" y1="692.34" x2="338.5" y2="691.74" stroke="#8a1a9a" stroke-width="3.8"/>
<polyline points="327.6,687.4 389.2,682.9 441.2,677 486.2,668 494.8,664.5" fill="none" stroke="#1a1ae0" stroke-width="1.3" stroke-linejoin="round"/>
<polygon points="335,684.66 337.2,686.86 335,689.06 332.8,686.86" fill="#1a1ae0"/>
<polygon points="341.15,684.21 343.35,686.41 341.15,688.61 338.95,686.41" fill="#1a1ae0"/>
<polygon points="347.3,683.76 349.5,685.96 347.3,688.16 345.1,685.96" fill="#1a1ae0"/>
<polygon points="353.45,683.31 355.65,685.51 353.45,687.71 351.25,685.51" fill="#1a1ae0"/>
<polygon points="359.6,682.86 361.8,685.06 359.6,687.26 357.4,685.06" fill="#1a1ae0"/>
<polygon points="365.75,682.41 367.95,684.61 365.75,686.81 363.55,684.61" fill="#1a1ae0"/>
<polygon points="371.9,681.96 374.1,684.16 371.9,686.36 369.7,684.16" fill="#1a1ae0"/>
<polygon points="378.05,681.51 380.25,683.71 378.05,685.91 375.85,683.71" fill="#1a1ae0"/>
<polygon points="384.2,681.07 386.4,683.27 384.2,685.47 382,683.27" fill="#1a1ae0"/>
<polygon points="390.35,680.57 392.55,682.77 390.35,684.97 388.15,682.77" fill="#1a1ae0"/>
<polygon points="396.5,679.87 398.7,682.07 396.5,684.27 394.3,682.07" fill="#1a1ae0"/>
<polygon points="402.65,679.17 404.85,681.37 402.65,683.57 400.45,681.37" fill="#1a1ae0"/>
<polygon points="408.8,678.48 411,680.68 408.8,682.88 406.6,680.68" fill="#1a1ae0"/>
<polygon points="414.95,677.78 417.15,679.98 414.95,682.18 412.75,679.98" fill="#1a1ae0"/>
<polygon points="421.1,677.08 423.3,679.28 421.1,681.48 418.9,679.28" fill="#1a1ae0"/>
<polygon points="427.25,676.38 429.45,678.58 427.25,680.78 425.05,678.58" fill="#1a1ae0"/>
<polygon points="433.4,675.68 435.6,677.88 433.4,680.09 431.2,677.88" fill="#1a1ae0"/>
<polygon points="439.55,674.99 441.75,677.19 439.55,679.39 437.35,677.19" fill="#1a1ae0"/>
<polygon points="445.7,673.9 447.9,676.1 445.7,678.3 443.5,676.1" fill="#1a1ae0"/>
<polygon points="451.85,672.67 454.05,674.87 451.85,677.07 449.65,674.87" fill="#1a1ae0"/>
<polygon points="458,671.44 460.2,673.64 458,675.84 455.8,673.64" fill="#1a1ae0"/>
<polygon points="464.15,670.21 466.35,672.41 464.15,674.61 461.95,672.41" fill="#1a1ae0"/>
<polygon points="470.3,668.98 472.5,671.18 470.3,673.38 468.1,671.18" fill="#1a1ae0"/>
<polygon points="476.45,667.75 478.65,669.95 476.45,672.15 474.25,669.95" fill="#1a1ae0"/>
<polygon points="482.6,666.52 484.8,668.72 482.6,670.92 480.4,668.72" fill="#1a1ae0"/>
<polygon points="488.75,664.76 490.95,666.96 488.75,669.16 486.55,666.96" fill="#1a1ae0"/>
<line x1="327.8" y1="688.21" x2="338.5" y2="687.61" stroke="#1a1ae0" stroke-width="3.8"/>
<polyline points="327.6,679.4 389.2,676 441.2,671.5 486.2,666.6 494.8,664.5" fill="none" stroke="#ff1010" stroke-width="1.3" stroke-linejoin="round"/>
<polygon points="335,676.79 337.2,678.99 335,681.19 332.8,678.99" fill="#ff1010"/>
<polygon points="341.15,676.45 343.35,678.65 341.15,680.85 338.95,678.65" fill="#ff1010"/>
<polygon points="347.3,676.11 349.5,678.31 347.3,680.51 345.1,678.31" fill="#ff1010"/>
<polygon points="353.45,675.77 355.65,677.97 353.45,680.17 351.25,677.97" fill="#ff1010"/>
<polygon points="359.6,675.43 361.8,677.63 359.6,679.83 357.4,677.63" fill="#ff1010"/>
<polygon points="365.75,675.09 367.95,677.29 365.75,679.49 363.55,677.29" fill="#ff1010"/>
<polygon points="371.9,674.75 374.1,676.95 371.9,679.15 369.7,676.95" fill="#ff1010"/>
<polygon points="378.05,674.42 380.25,676.62 378.05,678.82 375.85,676.62" fill="#ff1010"/>
<polygon points="384.2,674.08 386.4,676.28 384.2,678.48 382,676.28" fill="#ff1010"/>
<polygon points="390.35,673.7 392.55,675.9 390.35,678.1 388.15,675.9" fill="#ff1010"/>
<polygon points="396.5,673.17 398.7,675.37 396.5,677.57 394.3,675.37" fill="#ff1010"/>
<polygon points="402.65,672.64 404.85,674.84 402.65,677.04 400.45,674.84" fill="#ff1010"/>
<polygon points="408.8,672.1 411,674.3 408.8,676.5 406.6,674.3" fill="#ff1010"/>
<polygon points="414.95,671.57 417.15,673.77 414.95,675.97 412.75,673.77" fill="#ff1010"/>
<polygon points="421.1,671.04 423.3,673.24 421.1,675.44 418.9,673.24" fill="#ff1010"/>
<polygon points="427.25,670.51 429.45,672.71 427.25,674.91 425.05,672.71" fill="#ff1010"/>
<polygon points="433.4,669.98 435.6,672.18 433.4,674.38 431.2,672.18" fill="#ff1010"/>
<polygon points="439.55,669.44 441.75,671.64 439.55,673.84 437.35,671.64" fill="#ff1010"/>
<polygon points="445.7,668.81 447.9,671.01 445.7,673.21 443.5,671.01" fill="#ff1010"/>
<polygon points="451.85,668.14 454.05,670.34 451.85,672.54 449.65,670.34" fill="#ff1010"/>
<polygon points="458,667.47 460.2,669.67 458,671.87 455.8,669.67" fill="#ff1010"/>
<polygon points="464.15,666.8 466.35,669 464.15,671.2 461.95,669" fill="#ff1010"/>
<polygon points="470.3,666.13 472.5,668.33 470.3,670.53 468.1,668.33" fill="#ff1010"/>
<polygon points="476.45,665.46 478.65,667.66 476.45,669.86 474.25,667.66" fill="#ff1010"/>
<polygon points="482.6,664.79 484.8,666.99 482.6,669.19 480.4,666.99" fill="#ff1010"/>
<polygon points="488.75,663.78 490.95,665.98 488.75,668.18 486.55,665.98" fill="#ff1010"/>
<line x1="327.8" y1="680.3" x2="338.5" y2="679.7" stroke="#ff1010" stroke-width="3.8"/>
<polyline points="494.8,664.5 496.3,664.5 496.3,682.5 505.5,682.5 505.5,695 515,695" fill="none" stroke="#000" stroke-width="1.2" stroke-linejoin="round"/>
<line x1="494.5" y1="682.5" x2="505.5" y2="682.5" stroke="#000" stroke-width="2.6"/>
<line x1="505.5" y1="695" x2="515.5" y2="695" stroke="#000" stroke-width="2.6"/>
<circle cx="496" cy="664.8" r="1.8" fill="#000"/>
<line x1="321" y1="635.8" x2="517" y2="635.8" stroke="#000" stroke-width="1.3"/>
<line x1="517" y1="635.8" x2="517" y2="793.4" stroke="#000" stroke-width="1.3"/>
<line x1="319.9" y1="793.4" x2="517.65" y2="793.4" stroke="#000" stroke-width="2.2"/>
<line x1="321" y1="635.15" x2="321" y2="794.5" stroke="#000" stroke-width="2.2"/>
<line x1="322" y1="781.85" x2="323.6" y2="781.85" stroke="#000" stroke-width="1.1"/>
<line x1="322" y1="771.5" x2="323.6" y2="771.5" stroke="#000" stroke-width="1.1"/>
<line x1="322" y1="761.15" x2="323.6" y2="761.15" stroke="#000" stroke-width="1.1"/>
<line x1="322" y1="750.8" x2="323.6" y2="750.8" stroke="#000" stroke-width="1.1"/>
<line x1="322" y1="740.45" x2="323.6" y2="740.45" stroke="#000" stroke-width="1.1"/>
<line x1="322" y1="730.1" x2="323.6" y2="730.1" stroke="#000" stroke-width="1.1"/>
<line x1="322" y1="719.75" x2="323.6" y2="719.75" stroke="#000" stroke-width="1.1"/>
<line x1="322" y1="709.4" x2="323.6" y2="709.4" stroke="#000" stroke-width="1.1"/>
<line x1="322" y1="699.05" x2="323.6" y2="699.05" stroke="#000" stroke-width="1.1"/>
<line x1="322" y1="688.7" x2="323.6" y2="688.7" stroke="#000" stroke-width="1.1"/>
<line x1="322" y1="678.35" x2="323.6" y2="678.35" stroke="#000" stroke-width="1.1"/>
<line x1="322" y1="668" x2="323.6" y2="668" stroke="#000" stroke-width="1.1"/>
<line x1="322" y1="657.65" x2="323.6" y2="657.65" stroke="#000" stroke-width="1.1"/>
<line x1="322" y1="647.3" x2="323.6" y2="647.3" stroke="#000" stroke-width="1.1"/>
<line x1="337.7" y1="792.4" x2="337.7" y2="790.4" stroke="#000" stroke-width="1.1"/>
<line x1="354.4" y1="792.4" x2="354.4" y2="790.4" stroke="#000" stroke-width="1.1"/>
<line x1="371.1" y1="792.4" x2="371.1" y2="790.4" stroke="#000" stroke-width="1.1"/>
<line x1="387.8" y1="792.4" x2="387.8" y2="790.4" stroke="#000" stroke-width="1.1"/>
<line x1="404.5" y1="792.4" x2="404.5" y2="790.4" stroke="#000" stroke-width="1.1"/>
<line x1="421.2" y1="792.4" x2="421.2" y2="790.4" stroke="#000" stroke-width="1.1"/>
<line x1="437.9" y1="792.4" x2="437.9" y2="790.4" stroke="#000" stroke-width="1.1"/>
<line x1="454.6" y1="792.4" x2="454.6" y2="790.4" stroke="#000" stroke-width="1.1"/>
<line x1="471.3" y1="792.4" x2="471.3" y2="790.4" stroke="#000" stroke-width="1.1"/>
<line x1="488" y1="792.4" x2="488" y2="790.4" stroke="#000" stroke-width="1.1"/>
<line x1="504.7" y1="792.4" x2="504.7" y2="790.4" stroke="#000" stroke-width="1.1"/>
<text x="317" y="639.95" font-family="'Liberation Serif', 'Times New Roman', serif" font-size="9" font-weight="bold" text-anchor="end">10<tspan font-size="5.4" dy="-3.8">25</tspan></text>
<text x="317" y="671" font-family="'Liberation Serif', 'Times New Roman', serif" font-size="9" font-weight="bold" text-anchor="end">10<tspan font-size="5.4" dy="-3.8">22</tspan></text>
<text x="317" y="702.05" font-family="'Liberation Serif', 'Times New Roman', serif" font-size="9" font-weight="bold" text-anchor="end">10<tspan font-size="5.4" dy="-3.8">19</tspan></text>
<text x="317" y="733.1" font-family="'Liberation Serif', 'Times New Roman', serif" font-size="9" font-weight="bold" text-anchor="end">10<tspan font-size="5.4" dy="-3.8">16</tspan></text>
<text x="317" y="764.15" font-family="'Liberation Serif', 'Times New Roman', serif" font-size="9" font-weight="bold" text-anchor="end">10<tspan font-size="5.4" dy="-3.8">13</tspan></text>
<text x="317" y="795.2" font-family="'Liberation Serif', 'Times New Roman', serif" font-size="9" font-weight="bold" text-anchor="end">10<tspan font-size="5.4" dy="-3.8">10</tspan></text>
<text x="320" y="803.6" font-family="'Liberation Serif', 'Times New Roman', serif" font-size="7.6" font-weight="bold" text-anchor="middle" fill="#000">0.0</text>
<text x="353.4" y="803.6" font-family="'Liberation Serif', 'Times New Roman', serif" font-size="7.6" font-weight="bold" text-anchor="middle" fill="#000">0.2</text>
<text x="386.8" y="803.6" font-family="'Liberation Serif', 'Times New Roman', serif" font-size="7.6" font-weight="bold" text-anchor="middle" fill="#000">0.4</text>
<text x="420.2" y="803.6" font-family="'Liberation Serif', 'Times New Roman', serif" font-size="7.6" font-weight="bold" text-anchor="middle" fill="#000">0.6</text>
<text x="453.6" y="803.6" font-family="'Liberation Serif', 'Times New Roman', serif" font-size="7.6" font-weight="bold" text-anchor="middle" fill="#000">0.8</text>
<text x="487" y="803.6" font-family="'Liberation Serif', 'Times New Roman', serif" font-size="7.6" font-weight="bold" text-anchor="middle" fill="#000">1.0</text>
<text x="410.9" y="818.2" font-family="'Liberation Serif', 'Times New Roman', serif" font-size="10.8" font-weight="bold" text-anchor="middle" fill="#000">Distance (μm)</text>
<text x="299.6" y="723" font-family="'Liberation Serif', 'Times New Roman', serif" font-size="11.1" font-weight="bold" text-anchor="middle" transform="rotate(-90 299.6 723)">Total generation (cm<tspan font-size="7" dy="-4">-3</tspan><tspan dy="4">s</tspan><tspan font-size="7" dy="-4">-1</tspan><tspan dy="4">)</tspan></text>
<rect x="367.4" y="706.9" width="101.1" height="60" fill="#fff" stroke="#3a3ad8" stroke-width="1.3"/>
<text x="371.5" y="719.3" font-family="'Liberation Serif', 'Times New Roman', serif" font-size="8.2" font-weight="bold" text-anchor="start" fill="#000">Thickness of CIGS absober</text>
<line x1="390" y1="728.2" x2="408.5" y2="728.2" stroke="#ff1010" stroke-width="1.6"/>
<polygon points="399.25,726 401.45,728.2 399.25,730.4 397.05,728.2" fill="#ff1010"/>
<text x="410.3" y="731.4" font-family="'Liberation Sans', Arial, sans-serif" font-size="8.2" font-weight="bold" text-anchor="start" fill="#000">0.5μm</text>
<line x1="390" y1="738.8" x2="408.5" y2="738.8" stroke="#1a1ae0" stroke-width="1.6"/>
<circle cx="399.25" cy="738.8" r="1.9" fill="#1a1ae0"/>
<text x="410.3" y="742" font-family="'Liberation Sans', Arial, sans-serif" font-size="8.2" font-weight="bold" text-anchor="start" fill="#000">1μm</text>
<line x1="390" y1="749.6" x2="408.5" y2="749.6" stroke="#8a1a9a" stroke-width="1.6"/>
<polygon points="399.25,747.4 401.45,751.2 397.05,751.2" fill="#8a1a9a"/>
<text x="410.3" y="752.8" font-family="'Liberation Sans', Arial, sans-serif" font-size="8.2" font-weight="bold" text-anchor="start" fill="#000">1.5μm</text>
<line x1="390" y1="761.2" x2="408.5" y2="761.2" stroke="#000" stroke-width="1.6"/>
<polygon points="399.25,759 401.45,761.2 399.25,763.4 397.05,761.2" fill="#000"/>
<text x="410.3" y="764.4" font-family="'Liberation Sans', Arial, sans-serif" font-size="8.2" font-weight="bold" text-anchor="start" fill="#000">2μm</text>
</svg>
</body></html>
